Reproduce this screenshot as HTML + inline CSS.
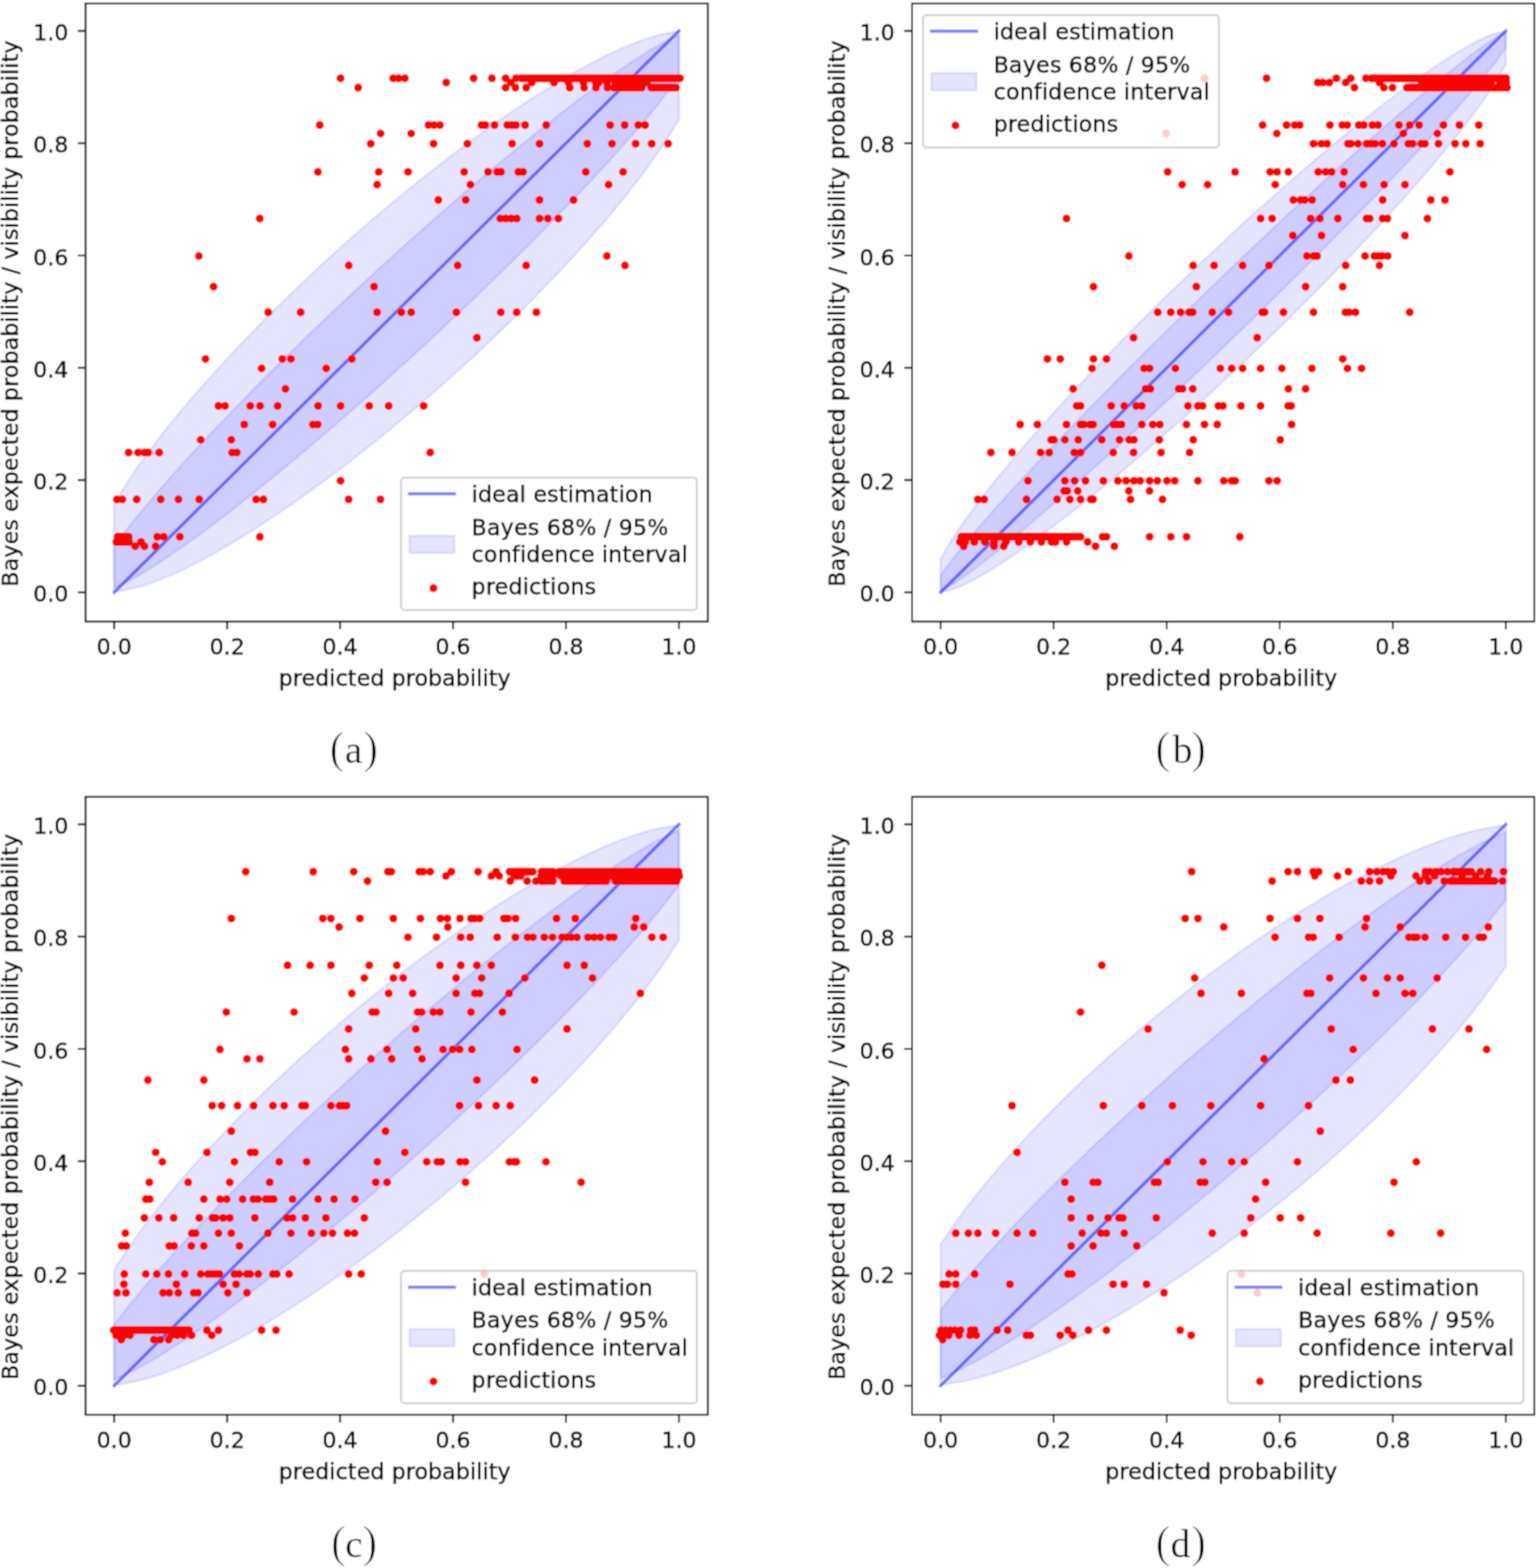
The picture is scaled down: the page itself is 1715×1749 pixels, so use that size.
<!DOCTYPE html>
<html><head><meta charset="utf-8"><style>html,body{margin:0;padding:0;background:#fff;}svg{display:block;}</style></head>
<body><svg xmlns="http://www.w3.org/2000/svg" width="1715" height="1749" viewBox="0 0 1715 1749">
<defs><filter id="sm" x="0" y="0" width="1715" height="1749" filterUnits="userSpaceOnUse"><feConvolveMatrix order="3" kernelMatrix="1 2 1 2 4 2 1 2 1" divisor="16" edgeMode="duplicate" preserveAlpha="true"/></filter></defs><g filter="url(#sm)">
<rect width="1715" height="1749" fill="#fff"/>
<path d="M127.3,562.0 L139.9,541.3 L152.5,522.5 L165.1,505.0 L177.7,488.4 L190.3,472.5 L202.9,457.2 L215.5,442.3 L228.1,427.9 L240.7,413.9 L253.3,400.2 L265.9,386.7 L278.5,373.6 L291.0,360.7 L303.6,348.1 L316.2,335.7 L328.8,323.5 L341.4,311.5 L354.0,299.7 L366.6,288.1 L379.2,276.7 L391.8,265.5 L404.4,254.4 L417.0,243.5 L429.6,232.8 L442.2,222.3 L454.8,211.9 L467.4,201.7 L480.0,191.7 L492.6,181.8 L505.2,172.2 L517.8,162.7 L530.4,153.4 L543.0,144.2 L555.6,135.3 L568.2,126.6 L580.8,118.1 L593.4,109.8 L605.9,101.7 L618.5,93.9 L631.1,86.4 L643.7,79.1 L656.3,72.2 L668.9,65.6 L681.5,59.4 L694.1,53.7 L706.7,48.5 L719.3,43.9 L731.9,40.0 L744.5,37.0 L757.1,35.1 L757.1,133.2 L744.5,153.9 L731.9,172.7 L719.3,190.2 L706.7,206.8 L694.1,222.7 L681.5,238.0 L668.9,252.9 L656.3,267.3 L643.7,281.3 L631.1,295.0 L618.5,308.5 L605.9,321.6 L593.4,334.5 L580.8,347.1 L568.2,359.5 L555.6,371.7 L543.0,383.7 L530.4,395.5 L517.8,407.1 L505.2,418.5 L492.6,429.7 L480.0,440.8 L467.4,451.7 L454.8,462.4 L442.2,472.9 L429.6,483.3 L417.0,493.5 L404.4,503.5 L391.8,513.4 L379.2,523.0 L366.6,532.5 L354.0,541.8 L341.4,551.0 L328.8,559.9 L316.2,568.6 L303.6,577.1 L291.0,585.4 L278.5,593.5 L265.9,601.3 L253.3,608.8 L240.7,616.1 L228.1,623.0 L215.5,629.6 L202.9,635.8 L190.3,641.5 L177.7,646.7 L165.1,651.3 L152.5,655.2 L139.9,658.2 L127.3,660.1Z" fill="#00f" fill-opacity="0.1" stroke="#00f" stroke-opacity="0.1" stroke-width="2.4" stroke-linejoin="round"/>
<path d="M127.3,609.6 L139.9,592.7 L152.5,576.7 L165.1,561.5 L177.7,546.7 L190.3,532.4 L202.9,518.3 L215.5,504.5 L228.1,491.0 L240.7,477.6 L253.3,464.5 L265.9,451.5 L278.5,438.6 L291.0,425.9 L303.6,413.3 L316.2,400.8 L328.8,388.5 L341.4,376.2 L354.0,364.1 L366.6,352.1 L379.2,340.2 L391.8,328.3 L404.4,316.6 L417.0,304.9 L429.6,293.4 L442.2,281.9 L454.8,270.6 L467.4,259.3 L480.0,248.1 L492.6,237.1 L505.2,226.1 L517.8,215.2 L530.4,204.4 L543.0,193.7 L555.6,183.1 L568.2,172.7 L580.8,162.3 L593.4,152.1 L605.9,142.0 L618.5,132.0 L631.1,122.2 L643.7,112.6 L656.3,103.1 L668.9,93.9 L681.5,84.8 L694.1,76.1 L706.7,67.6 L719.3,59.6 L731.9,52.1 L744.5,45.2 L757.1,39.5 L757.1,85.6 L744.5,102.5 L731.9,118.5 L719.3,133.7 L706.7,148.5 L694.1,162.8 L681.5,176.9 L668.9,190.7 L656.3,204.2 L643.7,217.6 L631.1,230.7 L618.5,243.7 L605.9,256.6 L593.4,269.3 L580.8,281.9 L568.2,294.4 L555.6,306.7 L543.0,319.0 L530.4,331.1 L517.8,343.1 L505.2,355.0 L492.6,366.9 L480.0,378.6 L467.4,390.3 L454.8,401.8 L442.2,413.3 L429.6,424.6 L417.0,435.9 L404.4,447.1 L391.8,458.1 L379.2,469.1 L366.6,480.0 L354.0,490.8 L341.4,501.5 L328.8,512.1 L316.2,522.5 L303.6,532.9 L291.0,543.1 L278.5,553.2 L265.9,563.2 L253.3,573.0 L240.7,582.6 L228.1,592.1 L215.5,601.3 L202.9,610.4 L190.3,619.1 L177.7,627.6 L165.1,635.6 L152.5,643.1 L139.9,650.0 L127.3,655.7Z" fill="#00f" fill-opacity="0.1" stroke="#00f" stroke-opacity="0.1" stroke-width="2.4" stroke-linejoin="round"/>
<line x1="127.3" y1="660.8" x2="757.1" y2="34.4" stroke="#00f" stroke-opacity="0.5" stroke-width="3.4" stroke-linecap="square"/>
<g fill="#f00">
<circle cx="379.8" cy="87.2" r="4.5"/><circle cx="399.4" cy="97.7" r="4.5"/><circle cx="438.4" cy="87.2" r="4.5"/><circle cx="444.5" cy="87.2" r="4.5"/><circle cx="451.5" cy="87.2" r="4.5"/><circle cx="356.5" cy="139.5" r="4.5"/><circle cx="424.4" cy="148.9" r="4.5"/><circle cx="458.5" cy="148.9" r="4.5"/><circle cx="413.4" cy="160.3" r="4.5"/><circle cx="477.8" cy="139.5" r="4.5"/><circle cx="483.9" cy="139.5" r="4.5"/><circle cx="490.5" cy="139.5" r="4.5"/><circle cx="483.4" cy="160.3" r="4.5"/><circle cx="354.5" cy="191.7" r="4.5"/><circle cx="422.3" cy="191.7" r="4.5"/><circle cx="455.0" cy="191.7" r="4.5"/><circle cx="420.5" cy="205.9" r="4.5"/><circle cx="488.8" cy="223.0" r="4.5"/><circle cx="289.7" cy="243.8" r="4.5"/><circle cx="221.8" cy="285.6" r="4.5"/><circle cx="388.9" cy="296.1" r="4.5"/><circle cx="238.1" cy="319.7" r="4.5"/><circle cx="417.1" cy="319.7" r="4.5"/><circle cx="299.0" cy="348.2" r="4.5"/><circle cx="335.2" cy="348.2" r="4.5"/><circle cx="420.5" cy="348.2" r="4.5"/><circle cx="447.5" cy="348.2" r="4.5"/><circle cx="458.5" cy="348.2" r="4.5"/><circle cx="497.6" cy="92.0" r="4.5"/><circle cx="528.1" cy="87.2" r="4.5"/><circle cx="536.9" cy="139.5" r="4.5"/><circle cx="541.2" cy="139.5" r="4.5"/><circle cx="551.4" cy="139.5" r="4.5"/><circle cx="565.7" cy="139.5" r="4.5"/><circle cx="570.6" cy="139.5" r="4.5"/><circle cx="575.3" cy="139.5" r="4.5"/><circle cx="585.5" cy="139.5" r="4.5"/><circle cx="609.1" cy="139.5" r="4.5"/><circle cx="680.3" cy="139.5" r="4.5"/><circle cx="696.6" cy="139.5" r="4.5"/><circle cx="711.8" cy="139.5" r="4.5"/><circle cx="719.3" cy="139.5" r="4.5"/><circle cx="521.1" cy="160.3" r="4.5"/><circle cx="571.0" cy="160.3" r="4.5"/><circle cx="601.6" cy="160.3" r="4.5"/><circle cx="654.9" cy="160.3" r="4.5"/><circle cx="682.4" cy="160.3" r="4.5"/><circle cx="708.8" cy="160.3" r="4.5"/><circle cx="726.7" cy="160.3" r="4.5"/><circle cx="745.0" cy="160.3" r="4.5"/><circle cx="517.6" cy="191.7" r="4.5"/><circle cx="544.2" cy="191.7" r="4.5"/><circle cx="554.4" cy="191.7" r="4.5"/><circle cx="558.7" cy="191.7" r="4.5"/><circle cx="578.0" cy="191.7" r="4.5"/><circle cx="583.2" cy="191.7" r="4.5"/><circle cx="653.2" cy="191.7" r="4.5"/><circle cx="694.8" cy="191.7" r="4.5"/><circle cx="524.6" cy="205.9" r="4.5"/><circle cx="678.6" cy="205.9" r="4.5"/><circle cx="519.3" cy="223.0" r="4.5"/><circle cx="601.6" cy="223.0" r="4.5"/><circle cx="639.5" cy="223.0" r="4.5"/><circle cx="557.8" cy="243.8" r="4.5"/><circle cx="564.0" cy="243.8" r="4.5"/><circle cx="570.1" cy="243.8" r="4.5"/><circle cx="576.2" cy="243.8" r="4.5"/><circle cx="601.6" cy="243.8" r="4.5"/><circle cx="610.9" cy="243.8" r="4.5"/><circle cx="622.6" cy="243.8" r="4.5"/><circle cx="676.8" cy="285.6" r="4.5"/><circle cx="510.3" cy="296.1" r="4.5"/><circle cx="586.7" cy="296.1" r="4.5"/><circle cx="696.9" cy="296.1" r="4.5"/><circle cx="508.9" cy="348.2" r="4.5"/><circle cx="558.4" cy="348.2" r="4.5"/><circle cx="576.2" cy="348.2" r="4.5"/><circle cx="598.1" cy="348.2" r="4.5"/><circle cx="229.1" cy="400.4" r="4.5"/><circle cx="314.8" cy="400.4" r="4.5"/><circle cx="324.4" cy="400.4" r="4.5"/><circle cx="392.3" cy="400.4" r="4.5"/><circle cx="291.7" cy="410.9" r="4.5"/><circle cx="363.8" cy="410.9" r="4.5"/><circle cx="318.3" cy="433.7" r="4.5"/><circle cx="243.6" cy="452.7" r="4.5"/><circle cx="250.9" cy="452.7" r="4.5"/><circle cx="279.0" cy="452.7" r="4.5"/><circle cx="290.0" cy="452.7" r="4.5"/><circle cx="309.6" cy="452.7" r="4.5"/><circle cx="354.7" cy="452.7" r="4.5"/><circle cx="379.8" cy="452.7" r="4.5"/><circle cx="272.3" cy="473.5" r="4.5"/><circle cx="304.0" cy="473.5" r="4.5"/><circle cx="348.9" cy="473.5" r="4.5"/><circle cx="354.2" cy="473.5" r="4.5"/><circle cx="223.8" cy="490.6" r="4.5"/><circle cx="257.9" cy="490.6" r="4.5"/><circle cx="143.4" cy="504.8" r="4.5"/><circle cx="153.9" cy="504.8" r="4.5"/><circle cx="160.9" cy="504.8" r="4.5"/><circle cx="165.2" cy="504.8" r="4.5"/><circle cx="177.5" cy="504.8" r="4.5"/><circle cx="258.8" cy="504.8" r="4.5"/><circle cx="264.0" cy="504.8" r="4.5"/><circle cx="379.8" cy="536.2" r="4.5"/><circle cx="130.3" cy="557.0" r="4.5"/><circle cx="136.4" cy="557.0" r="4.5"/><circle cx="152.4" cy="557.0" r="4.5"/><circle cx="179.2" cy="557.0" r="4.5"/><circle cx="199.0" cy="557.0" r="4.5"/><circle cx="222.1" cy="557.0" r="4.5"/><circle cx="285.6" cy="557.0" r="4.5"/><circle cx="293.8" cy="557.0" r="4.5"/><circle cx="388.8" cy="557.0" r="4.5"/><circle cx="289.8" cy="598.8" r="4.5"/><circle cx="531.8" cy="376.8" r="4.5"/><circle cx="411.8" cy="452.7" r="4.5"/><circle cx="433.4" cy="452.7" r="4.5"/><circle cx="472.4" cy="452.7" r="4.5"/><circle cx="479.7" cy="504.8" r="4.5"/><circle cx="424.2" cy="557.0" r="4.5"/><circle cx="633.8" cy="92.0" r="4.5"/><circle cx="650.6" cy="92.0" r="4.5"/><circle cx="676.8" cy="92.0" r="4.5"/><circle cx="548.5" cy="87.2" r="4.5"/><circle cx="563.8" cy="87.2" r="4.5"/><circle cx="575.5" cy="87.2" r="4.5"/><circle cx="569.7" cy="92.0" r="4.5"/><circle cx="593.0" cy="92.0" r="4.5"/><circle cx="617.8" cy="92.0" r="4.5"/><circle cx="664.4" cy="92.0" r="4.5"/><circle cx="667.5" cy="92.0" r="4.5"/><circle cx="563.8" cy="97.7" r="4.5"/><circle cx="574.8" cy="97.7" r="4.5"/><circle cx="586.8" cy="97.7" r="4.5"/><circle cx="635.3" cy="97.7" r="4.5"/><circle cx="651.3" cy="97.7" r="4.5"/><circle cx="664.5" cy="97.7" r="4.5"/><circle cx="677.3" cy="97.7" r="4.5"/><circle cx="131.1" cy="598.8" r="4.5"/><circle cx="134.1" cy="598.8" r="4.5"/><circle cx="137.1" cy="598.8" r="4.5"/><circle cx="140.1" cy="598.8" r="4.5"/><circle cx="143.5" cy="598.8" r="4.5"/><circle cx="175.3" cy="598.8" r="4.5"/><circle cx="182.6" cy="598.8" r="4.5"/><circle cx="200.6" cy="598.8" r="4.5"/><circle cx="129.8" cy="604.5" r="4.5"/><circle cx="132.8" cy="604.5" r="4.5"/><circle cx="136.2" cy="604.5" r="4.5"/><circle cx="139.7" cy="604.5" r="4.5"/><circle cx="144.0" cy="604.5" r="4.5"/><circle cx="157.3" cy="604.5" r="4.5"/><circle cx="150.8" cy="609.3" r="4.5"/><circle cx="161.1" cy="609.3" r="4.5"/><circle cx="173.5" cy="609.3" r="4.5"/><circle cx="581.3" cy="87.2" r="4.5"/><circle cx="584.3" cy="87.2" r="4.5"/><circle cx="587.3" cy="87.2" r="4.5"/><circle cx="590.3" cy="87.2" r="4.5"/><circle cx="593.3" cy="87.2" r="4.5"/><circle cx="596.3" cy="87.2" r="4.5"/><circle cx="599.3" cy="87.2" r="4.5"/><circle cx="602.3" cy="87.2" r="4.5"/><circle cx="605.3" cy="87.2" r="4.5"/><circle cx="608.3" cy="87.2" r="4.5"/><circle cx="611.3" cy="87.2" r="4.5"/><circle cx="614.3" cy="87.2" r="4.5"/><circle cx="617.3" cy="87.2" r="4.5"/><circle cx="620.3" cy="87.2" r="4.5"/><circle cx="623.3" cy="87.2" r="4.5"/><circle cx="626.3" cy="87.2" r="4.5"/><circle cx="629.2" cy="87.2" r="4.5"/><circle cx="632.3" cy="87.2" r="4.5"/><circle cx="635.3" cy="87.2" r="4.5"/><circle cx="638.3" cy="87.2" r="4.5"/><circle cx="641.3" cy="87.2" r="4.5"/><circle cx="644.2" cy="87.2" r="4.5"/><circle cx="647.3" cy="87.2" r="4.5"/><circle cx="650.3" cy="87.2" r="4.5"/><circle cx="653.2" cy="87.2" r="4.5"/><circle cx="656.3" cy="87.2" r="4.5"/><circle cx="659.2" cy="87.2" r="4.5"/><circle cx="662.2" cy="87.2" r="4.5"/><circle cx="665.3" cy="87.2" r="4.5"/><circle cx="668.2" cy="87.2" r="4.5"/><circle cx="671.3" cy="87.2" r="4.5"/><circle cx="674.3" cy="87.2" r="4.5"/><circle cx="677.2" cy="87.2" r="4.5"/><circle cx="680.3" cy="87.2" r="4.5"/><circle cx="683.2" cy="87.2" r="4.5"/><circle cx="686.2" cy="87.2" r="4.5"/><circle cx="689.3" cy="87.2" r="4.5"/><circle cx="692.2" cy="87.2" r="4.5"/><circle cx="695.2" cy="87.2" r="4.5"/><circle cx="698.2" cy="87.2" r="4.5"/><circle cx="701.2" cy="87.2" r="4.5"/><circle cx="704.3" cy="87.2" r="4.5"/><circle cx="707.2" cy="87.2" r="4.5"/><circle cx="710.2" cy="87.2" r="4.5"/><circle cx="713.2" cy="87.2" r="4.5"/><circle cx="716.2" cy="87.2" r="4.5"/><circle cx="719.2" cy="87.2" r="4.5"/><circle cx="722.2" cy="87.2" r="4.5"/><circle cx="725.2" cy="87.2" r="4.5"/><circle cx="728.2" cy="87.2" r="4.5"/><circle cx="731.2" cy="87.2" r="4.5"/><circle cx="734.2" cy="87.2" r="4.5"/><circle cx="737.2" cy="87.2" r="4.5"/><circle cx="740.2" cy="87.2" r="4.5"/><circle cx="743.2" cy="87.2" r="4.5"/><circle cx="746.2" cy="87.2" r="4.5"/><circle cx="749.2" cy="87.2" r="4.5"/><circle cx="752.2" cy="87.2" r="4.5"/><circle cx="755.2" cy="87.2" r="4.5"/><circle cx="758.2" cy="87.2" r="4.5"/><circle cx="686.3" cy="92.0" r="4.5"/><circle cx="689.2" cy="92.0" r="4.5"/><circle cx="692.2" cy="92.0" r="4.5"/><circle cx="695.1" cy="92.0" r="4.5"/><circle cx="698.0" cy="92.0" r="4.5"/><circle cx="700.9" cy="92.0" r="4.5"/><circle cx="703.8" cy="92.0" r="4.5"/><circle cx="706.7" cy="92.0" r="4.5"/><circle cx="709.6" cy="92.0" r="4.5"/><circle cx="712.6" cy="92.0" r="4.5"/><circle cx="715.5" cy="92.0" r="4.5"/><circle cx="718.4" cy="92.0" r="4.5"/><circle cx="721.3" cy="92.0" r="4.5"/><circle cx="684.5" cy="97.7" r="4.5"/><circle cx="687.6" cy="97.7" r="4.5"/><circle cx="690.7" cy="97.7" r="4.5"/><circle cx="693.8" cy="97.7" r="4.5"/><circle cx="696.9" cy="97.7" r="4.5"/><circle cx="700.0" cy="97.7" r="4.5"/><circle cx="703.1" cy="97.7" r="4.5"/><circle cx="706.2" cy="97.7" r="4.5"/><circle cx="709.3" cy="97.7" r="4.5"/><circle cx="712.4" cy="97.7" r="4.5"/><circle cx="715.5" cy="97.7" r="4.5"/><circle cx="726.1" cy="97.7" r="4.5"/><circle cx="729.2" cy="97.7" r="4.5"/><circle cx="732.3" cy="97.7" r="4.5"/><circle cx="735.3" cy="97.7" r="4.5"/><circle cx="738.4" cy="97.7" r="4.5"/><circle cx="741.5" cy="97.7" r="4.5"/><circle cx="744.6" cy="97.7" r="4.5"/><circle cx="747.6" cy="97.7" r="4.5"/><circle cx="750.7" cy="97.7" r="4.5"/><circle cx="753.8" cy="97.7" r="4.5"/>
</g>
<rect x="447.2" y="532.7" width="329.9" height="147.7" rx="4" ry="4" fill="#fff" fill-opacity="0.8" stroke="#ccc" stroke-width="2"/>
<line x1="456.7" y1="550.8" x2="506.7" y2="550.8" stroke="#00f" stroke-opacity="0.5" stroke-width="3.4" stroke-linecap="square"/>
<rect x="456.7" y="597.7" width="50" height="19" fill="#00f" fill-opacity="0.1" stroke="#00f" stroke-opacity="0.1" stroke-width="2.4"/>
<circle cx="483.3" cy="656.0" r="4.5" fill="#f00"/>
<g font-family="'DejaVu Sans', 'Liberation Sans', sans-serif" font-size="24.7" fill="#000" stroke="#000" stroke-width="0.45" letter-spacing="0.22">
<text x="525.8" y="559.7">ideal estimation</text>
<text x="525.8" y="596.5">Bayes 68% / 95%</text>
<text x="525.8" y="626.8">confidence interval</text>
<text x="525.8" y="663.0">predictions</text>
</g>
<rect x="95.4" y="3.9" width="693.9" height="689.4" fill="none" stroke="#000" stroke-width="2" stroke-linejoin="miter"/>
<path d="M127.3,693.2 v8.6 M95.4,660.8 h-8.6 M253.3,693.2 v8.6 M95.4,535.5 h-8.6 M379.2,693.2 v8.6 M95.4,410.2 h-8.6 M505.2,693.2 v8.6 M95.4,285.0 h-8.6 M631.1,693.2 v8.6 M95.4,159.7 h-8.6 M757.1,693.2 v8.6 M95.4,34.4 h-8.6" stroke="#000" stroke-width="2"/>
<g font-family="'DejaVu Sans', 'Liberation Sans', sans-serif" font-size="24.7" fill="#000" stroke="#000" stroke-width="0.45">
<text x="127.3" y="730.2" text-anchor="middle">0.0</text>
<text x="76.2" y="671.3" text-anchor="end">0.0</text>
<text x="253.3" y="730.2" text-anchor="middle">0.2</text>
<text x="76.2" y="546.0" text-anchor="end">0.2</text>
<text x="379.2" y="730.2" text-anchor="middle">0.4</text>
<text x="76.2" y="420.7" text-anchor="end">0.4</text>
<text x="505.2" y="730.2" text-anchor="middle">0.6</text>
<text x="76.2" y="295.5" text-anchor="end">0.6</text>
<text x="631.1" y="730.2" text-anchor="middle">0.8</text>
<text x="76.2" y="170.2" text-anchor="end">0.8</text>
<text x="757.1" y="730.2" text-anchor="middle">1.0</text>
<text x="76.2" y="44.9" text-anchor="end">1.0</text>
<text x="440.1" y="765.2" text-anchor="middle" letter-spacing="0.1">predicted probability</text>
<text transform="translate(19.9,349.7) rotate(-90)" text-anchor="middle" letter-spacing="0.15">Bayes expected probability / visibility probability</text>
</g>
<g font-family="'Liberation Serif', serif" fill="#000" stroke="#fff" stroke-width="1.0"><text x="367.4" y="851.1" font-size="50">(</text><text x="384.4" y="851.1" font-size="44" stroke-width="0.25">a</text><text x="405.0" y="851.1" font-size="50">)</text></g>
<path d="M1048.9,623.4 L1061.5,601.8 L1074.1,583.1 L1086.7,565.8 L1099.3,549.4 L1111.9,533.7 L1124.5,518.4 L1137.1,503.5 L1149.7,488.9 L1162.3,474.7 L1174.9,460.6 L1187.5,446.8 L1200.1,433.2 L1212.8,419.8 L1225.4,406.5 L1238.0,393.4 L1250.6,380.5 L1263.2,367.7 L1275.8,355.0 L1288.4,342.5 L1301.0,330.1 L1313.6,317.8 L1326.2,305.7 L1338.8,293.6 L1351.4,281.7 L1364.0,269.9 L1376.6,258.2 L1389.2,246.7 L1401.8,235.2 L1414.4,223.9 L1427.0,212.7 L1439.6,201.6 L1452.2,190.7 L1464.8,179.8 L1477.4,169.2 L1490.0,158.6 L1502.6,148.2 L1515.2,138.0 L1527.9,127.9 L1540.5,118.1 L1553.1,108.4 L1565.7,98.9 L1578.3,89.7 L1590.9,80.8 L1603.5,72.2 L1616.1,63.9 L1628.7,56.2 L1641.3,49.0 L1653.9,42.6 L1666.5,37.6 L1679.1,34.7 L1679.1,71.8 L1666.5,93.4 L1653.9,112.1 L1641.3,129.4 L1628.7,145.8 L1616.1,161.5 L1603.5,176.8 L1590.9,191.7 L1578.3,206.3 L1565.7,220.5 L1553.1,234.6 L1540.5,248.4 L1527.9,262.0 L1515.2,275.4 L1502.6,288.7 L1490.0,301.8 L1477.4,314.7 L1464.8,327.5 L1452.2,340.2 L1439.6,352.7 L1427.0,365.1 L1414.4,377.4 L1401.8,389.5 L1389.2,401.6 L1376.6,413.5 L1364.0,425.3 L1351.4,437.0 L1338.8,448.5 L1326.2,460.0 L1313.6,471.3 L1301.0,482.5 L1288.4,493.6 L1275.8,504.5 L1263.2,515.4 L1250.6,526.0 L1238.0,536.6 L1225.4,547.0 L1212.8,557.2 L1200.1,567.3 L1187.5,577.1 L1174.9,586.8 L1162.3,596.3 L1149.7,605.5 L1137.1,614.4 L1124.5,623.0 L1111.9,631.3 L1099.3,639.0 L1086.7,646.2 L1074.1,652.6 L1061.5,657.6 L1048.9,660.5Z" fill="#00f" fill-opacity="0.1" stroke="#00f" stroke-opacity="0.1" stroke-width="2.4" stroke-linejoin="round"/>
<path d="M1048.9,642.0 L1061.5,624.6 L1074.1,608.9 L1086.7,593.8 L1099.3,579.3 L1111.9,565.1 L1124.5,551.1 L1137.1,537.4 L1149.7,523.8 L1162.3,510.4 L1174.9,497.1 L1187.5,483.9 L1200.1,470.8 L1212.8,457.8 L1225.4,444.9 L1238.0,432.1 L1250.6,419.3 L1263.2,406.7 L1275.8,394.1 L1288.4,381.5 L1301.0,369.1 L1313.6,356.7 L1326.2,344.3 L1338.8,332.1 L1351.4,319.9 L1364.0,307.7 L1376.6,295.6 L1389.2,283.6 L1401.8,271.6 L1414.4,259.7 L1427.0,247.9 L1439.6,236.1 L1452.2,224.4 L1464.8,212.8 L1477.4,201.2 L1490.0,189.7 L1502.6,178.3 L1515.2,167.0 L1527.9,155.7 L1540.5,144.6 L1553.1,133.5 L1565.7,122.6 L1578.3,111.8 L1590.9,101.2 L1603.5,90.7 L1616.1,80.4 L1628.7,70.4 L1641.3,60.7 L1653.9,51.5 L1666.5,43.0 L1679.1,36.2 L1679.1,53.2 L1666.5,70.6 L1653.9,86.3 L1641.3,101.4 L1628.7,115.9 L1616.1,130.1 L1603.5,144.1 L1590.9,157.8 L1578.3,171.4 L1565.7,184.8 L1553.1,198.1 L1540.5,211.3 L1527.9,224.4 L1515.2,237.4 L1502.6,250.3 L1490.0,263.1 L1477.4,275.9 L1464.8,288.5 L1452.2,301.1 L1439.6,313.7 L1427.0,326.1 L1414.4,338.5 L1401.8,350.9 L1389.2,363.1 L1376.6,375.3 L1364.0,387.5 L1351.4,399.6 L1338.8,411.6 L1326.2,423.6 L1313.6,435.5 L1301.0,447.3 L1288.4,459.1 L1275.8,470.8 L1263.2,482.4 L1250.6,494.0 L1238.0,505.5 L1225.4,516.9 L1212.8,528.2 L1200.1,539.5 L1187.5,550.6 L1174.9,561.7 L1162.3,572.6 L1149.7,583.4 L1137.1,594.0 L1124.5,604.5 L1111.9,614.8 L1099.3,624.8 L1086.7,634.5 L1074.1,643.7 L1061.5,652.2 L1048.9,659.0Z" fill="#00f" fill-opacity="0.1" stroke="#00f" stroke-opacity="0.1" stroke-width="2.4" stroke-linejoin="round"/>
<line x1="1048.9" y1="660.8" x2="1679.1" y2="34.4" stroke="#00f" stroke-opacity="0.5" stroke-width="3.4" stroke-linecap="square"/>
<g fill="#f00">
<circle cx="1302.0" cy="191.7" r="4.5"/><circle cx="1318.1" cy="205.9" r="4.5"/><circle cx="1189.2" cy="243.8" r="4.5"/><circle cx="1258.8" cy="285.6" r="4.5"/><circle cx="1330.3" cy="296.1" r="4.5"/><circle cx="1219.3" cy="319.7" r="4.5"/><circle cx="1334.0" cy="319.7" r="4.5"/><circle cx="1291.0" cy="348.2" r="4.5"/><circle cx="1305.5" cy="348.2" r="4.5"/><circle cx="1316.4" cy="348.2" r="4.5"/><circle cx="1326.0" cy="348.2" r="4.5"/><circle cx="1330.0" cy="348.2" r="4.5"/><circle cx="1264.0" cy="376.8" r="4.5"/><circle cx="1167.9" cy="400.4" r="4.5"/><circle cx="1182.2" cy="400.4" r="4.5"/><circle cx="1219.3" cy="400.4" r="4.5"/><circle cx="1233.8" cy="400.4" r="4.5"/><circle cx="1217.7" cy="410.9" r="4.5"/><circle cx="1275.8" cy="410.9" r="4.5"/><circle cx="1281.9" cy="410.9" r="4.5"/><circle cx="1310.7" cy="410.9" r="4.5"/><circle cx="1196.6" cy="433.7" r="4.5"/><circle cx="1277.5" cy="433.7" r="4.5"/><circle cx="1282.8" cy="433.7" r="4.5"/><circle cx="1314.3" cy="433.7" r="4.5"/><circle cx="1318.6" cy="433.7" r="4.5"/><circle cx="1330.0" cy="433.7" r="4.5"/><circle cx="1200.6" cy="452.7" r="4.5"/><circle cx="1204.9" cy="452.7" r="4.5"/><circle cx="1239.0" cy="452.7" r="4.5"/><circle cx="1253.6" cy="452.7" r="4.5"/><circle cx="1267.0" cy="452.7" r="4.5"/><circle cx="1273.2" cy="452.7" r="4.5"/><circle cx="1324.7" cy="452.7" r="4.5"/><circle cx="1377.2" cy="191.7" r="4.5"/><circle cx="1416.2" cy="191.7" r="4.5"/><circle cx="1424.1" cy="191.7" r="4.5"/><circle cx="1436.7" cy="191.7" r="4.5"/><circle cx="1469.9" cy="191.7" r="4.5"/><circle cx="1478.3" cy="191.7" r="4.5"/><circle cx="1484.8" cy="191.7" r="4.5"/><circle cx="1498.8" cy="191.7" r="4.5"/><circle cx="1616.8" cy="191.7" r="4.5"/><circle cx="1346.6" cy="205.9" r="4.5"/><circle cx="1422.0" cy="205.9" r="4.5"/><circle cx="1497.2" cy="205.9" r="4.5"/><circle cx="1520.3" cy="205.9" r="4.5"/><circle cx="1543.4" cy="205.9" r="4.5"/><circle cx="1566.7" cy="205.9" r="4.5"/><circle cx="1442.1" cy="223.0" r="4.5"/><circle cx="1450.3" cy="223.0" r="4.5"/><circle cx="1454.7" cy="223.0" r="4.5"/><circle cx="1463.1" cy="223.0" r="4.5"/><circle cx="1541.8" cy="223.0" r="4.5"/><circle cx="1595.5" cy="223.0" r="4.5"/><circle cx="1611.3" cy="223.0" r="4.5"/><circle cx="1405.7" cy="243.8" r="4.5"/><circle cx="1418.5" cy="243.8" r="4.5"/><circle cx="1461.4" cy="243.8" r="4.5"/><circle cx="1471.8" cy="243.8" r="4.5"/><circle cx="1491.8" cy="243.8" r="4.5"/><circle cx="1523.8" cy="243.8" r="4.5"/><circle cx="1527.3" cy="243.8" r="4.5"/><circle cx="1541.8" cy="243.8" r="4.5"/><circle cx="1547.1" cy="243.8" r="4.5"/><circle cx="1591.7" cy="243.8" r="4.5"/><circle cx="1441.6" cy="262.8" r="4.5"/><circle cx="1473.6" cy="262.8" r="4.5"/><circle cx="1566.7" cy="262.8" r="4.5"/><circle cx="1457.3" cy="285.6" r="4.5"/><circle cx="1464.8" cy="285.6" r="4.5"/><circle cx="1468.7" cy="285.6" r="4.5"/><circle cx="1522.1" cy="285.6" r="4.5"/><circle cx="1532.5" cy="285.6" r="4.5"/><circle cx="1536.9" cy="285.6" r="4.5"/><circle cx="1541.3" cy="285.6" r="4.5"/><circle cx="1547.4" cy="285.6" r="4.5"/><circle cx="1353.8" cy="296.1" r="4.5"/><circle cx="1385.6" cy="296.1" r="4.5"/><circle cx="1415.0" cy="296.1" r="4.5"/><circle cx="1500.6" cy="296.1" r="4.5"/><circle cx="1538.1" cy="296.1" r="4.5"/><circle cx="1455.9" cy="319.7" r="4.5"/><circle cx="1497.2" cy="319.7" r="4.5"/><circle cx="1351.8" cy="348.2" r="4.5"/><circle cx="1369.9" cy="348.2" r="4.5"/><circle cx="1407.5" cy="348.2" r="4.5"/><circle cx="1410.1" cy="348.2" r="4.5"/><circle cx="1431.1" cy="348.2" r="4.5"/><circle cx="1464.6" cy="348.2" r="4.5"/><circle cx="1500.2" cy="348.2" r="4.5"/><circle cx="1504.5" cy="348.2" r="4.5"/><circle cx="1511.5" cy="348.2" r="4.5"/><circle cx="1571.9" cy="348.2" r="4.5"/><circle cx="1401.9" cy="376.8" r="4.5"/><circle cx="1497.2" cy="400.4" r="4.5"/><circle cx="1360.8" cy="410.9" r="4.5"/><circle cx="1373.4" cy="410.9" r="4.5"/><circle cx="1385.6" cy="410.9" r="4.5"/><circle cx="1405.7" cy="410.9" r="4.5"/><circle cx="1429.3" cy="410.9" r="4.5"/><circle cx="1462.9" cy="410.9" r="4.5"/><circle cx="1502.5" cy="410.9" r="4.5"/><circle cx="1518.2" cy="410.9" r="4.5"/><circle cx="1436.7" cy="433.7" r="4.5"/><circle cx="1455.9" cy="433.7" r="4.5"/><circle cx="1335.8" cy="452.7" r="4.5"/><circle cx="1341.0" cy="452.7" r="4.5"/><circle cx="1358.5" cy="452.7" r="4.5"/><circle cx="1363.7" cy="452.7" r="4.5"/><circle cx="1383.8" cy="452.7" r="4.5"/><circle cx="1405.7" cy="452.7" r="4.5"/><circle cx="1436.3" cy="452.7" r="4.5"/><circle cx="1439.8" cy="452.7" r="4.5"/><circle cx="1443.7" cy="139.5" r="4.5"/><circle cx="1449.3" cy="139.5" r="4.5"/><circle cx="1483.0" cy="139.5" r="4.5"/><circle cx="1496.7" cy="139.5" r="4.5"/><circle cx="1502.3" cy="139.5" r="4.5"/><circle cx="1515.1" cy="139.5" r="4.5"/><circle cx="1520.7" cy="139.5" r="4.5"/><circle cx="1530.3" cy="139.5" r="4.5"/><circle cx="1536.7" cy="139.5" r="4.5"/><circle cx="1560.0" cy="139.5" r="4.5"/><circle cx="1572.0" cy="139.5" r="4.5"/><circle cx="1582.4" cy="139.5" r="4.5"/><circle cx="1609.6" cy="139.5" r="4.5"/><circle cx="1627.3" cy="139.5" r="4.5"/><circle cx="1649.0" cy="139.5" r="4.5"/><circle cx="1564.8" cy="148.9" r="4.5"/><circle cx="1602.8" cy="148.9" r="4.5"/><circle cx="1464.6" cy="160.3" r="4.5"/><circle cx="1473.4" cy="160.3" r="4.5"/><circle cx="1479.8" cy="160.3" r="4.5"/><circle cx="1503.0" cy="160.3" r="4.5"/><circle cx="1506.2" cy="160.3" r="4.5"/><circle cx="1514.2" cy="160.3" r="4.5"/><circle cx="1523.9" cy="160.3" r="4.5"/><circle cx="1528.7" cy="160.3" r="4.5"/><circle cx="1533.5" cy="160.3" r="4.5"/><circle cx="1541.5" cy="160.3" r="4.5"/><circle cx="1554.4" cy="160.3" r="4.5"/><circle cx="1570.4" cy="160.3" r="4.5"/><circle cx="1575.2" cy="160.3" r="4.5"/><circle cx="1584.8" cy="160.3" r="4.5"/><circle cx="1588.9" cy="160.3" r="4.5"/><circle cx="1604.0" cy="160.3" r="4.5"/><circle cx="1622.5" cy="160.3" r="4.5"/><circle cx="1634.5" cy="160.3" r="4.5"/><circle cx="1650.5" cy="160.3" r="4.5"/><circle cx="1469.4" cy="92.0" r="4.5"/><circle cx="1475.0" cy="92.0" r="4.5"/><circle cx="1482.5" cy="92.0" r="4.5"/><circle cx="1500.6" cy="92.0" r="4.5"/><circle cx="1538.3" cy="92.0" r="4.5"/><circle cx="1490.2" cy="87.2" r="4.5"/><circle cx="1506.2" cy="87.2" r="4.5"/><circle cx="1523.1" cy="87.2" r="4.5"/><circle cx="1510.3" cy="97.7" r="4.5"/><circle cx="1543.1" cy="97.7" r="4.5"/><circle cx="1552.7" cy="97.7" r="4.5"/><circle cx="1412.3" cy="87.2" r="4.5"/><circle cx="1407.9" cy="139.5" r="4.5"/><circle cx="1423.8" cy="148.9" r="4.5"/><circle cx="1434.6" cy="139.5" r="4.5"/><circle cx="1343.1" cy="87.2" r="4.5"/><circle cx="1300.3" cy="148.9" r="4.5"/><circle cx="1137.6" cy="473.5" r="4.5"/><circle cx="1156.8" cy="473.5" r="4.5"/><circle cx="1189.2" cy="473.5" r="4.5"/><circle cx="1204.9" cy="473.5" r="4.5"/><circle cx="1208.4" cy="473.5" r="4.5"/><circle cx="1215.5" cy="473.5" r="4.5"/><circle cx="1218.9" cy="473.5" r="4.5"/><circle cx="1241.7" cy="473.5" r="4.5"/><circle cx="1246.0" cy="473.5" r="4.5"/><circle cx="1250.4" cy="473.5" r="4.5"/><circle cx="1273.2" cy="473.5" r="4.5"/><circle cx="1285.4" cy="473.5" r="4.5"/><circle cx="1293.3" cy="473.5" r="4.5"/><circle cx="1323.0" cy="473.5" r="4.5"/><circle cx="1172.0" cy="490.6" r="4.5"/><circle cx="1175.2" cy="490.6" r="4.5"/><circle cx="1187.4" cy="490.6" r="4.5"/><circle cx="1202.3" cy="490.6" r="4.5"/><circle cx="1228.6" cy="490.6" r="4.5"/><circle cx="1248.3" cy="490.6" r="4.5"/><circle cx="1259.1" cy="490.6" r="4.5"/><circle cx="1264.4" cy="490.6" r="4.5"/><circle cx="1292.7" cy="490.6" r="4.5"/><circle cx="1330.5" cy="490.6" r="4.5"/><circle cx="1104.9" cy="504.8" r="4.5"/><circle cx="1128.5" cy="504.8" r="4.5"/><circle cx="1160.3" cy="504.8" r="4.5"/><circle cx="1170.0" cy="504.8" r="4.5"/><circle cx="1197.9" cy="504.8" r="4.5"/><circle cx="1204.9" cy="504.8" r="4.5"/><circle cx="1241.3" cy="504.8" r="4.5"/><circle cx="1264.0" cy="504.8" r="4.5"/><circle cx="1294.7" cy="504.8" r="4.5"/><circle cx="1326.5" cy="504.8" r="4.5"/><circle cx="1146.3" cy="536.2" r="4.5"/><circle cx="1187.4" cy="536.2" r="4.5"/><circle cx="1198.3" cy="536.2" r="4.5"/><circle cx="1210.5" cy="536.2" r="4.5"/><circle cx="1230.3" cy="536.2" r="4.5"/><circle cx="1246.6" cy="536.2" r="4.5"/><circle cx="1255.7" cy="536.2" r="4.5"/><circle cx="1264.4" cy="536.2" r="4.5"/><circle cx="1271.4" cy="536.2" r="4.5"/><circle cx="1281.9" cy="536.2" r="4.5"/><circle cx="1290.6" cy="536.2" r="4.5"/><circle cx="1301.2" cy="536.2" r="4.5"/><circle cx="1309.9" cy="536.2" r="4.5"/><circle cx="1335.8" cy="536.2" r="4.5"/><circle cx="1186.6" cy="547.6" r="4.5"/><circle cx="1190.1" cy="547.6" r="4.5"/><circle cx="1201.8" cy="547.6" r="4.5"/><circle cx="1258.8" cy="547.6" r="4.5"/><circle cx="1281.9" cy="547.6" r="4.5"/><circle cx="1090.4" cy="557.0" r="4.5"/><circle cx="1097.4" cy="557.0" r="4.5"/><circle cx="1144.6" cy="557.0" r="4.5"/><circle cx="1178.7" cy="557.0" r="4.5"/><circle cx="1193.0" cy="557.0" r="4.5"/><circle cx="1204.9" cy="557.0" r="4.5"/><circle cx="1216.3" cy="557.0" r="4.5"/><circle cx="1218.9" cy="557.0" r="4.5"/><circle cx="1260.6" cy="557.0" r="4.5"/><circle cx="1296.2" cy="557.0" r="4.5"/><circle cx="1229.4" cy="598.8" r="4.5"/><circle cx="1233.8" cy="598.8" r="4.5"/><circle cx="1281.9" cy="598.8" r="4.5"/><circle cx="1305.5" cy="598.8" r="4.5"/><circle cx="1323.0" cy="598.8" r="4.5"/><circle cx="1070.3" cy="604.5" r="4.5"/><circle cx="1098.2" cy="604.5" r="4.5"/><circle cx="1135.9" cy="604.5" r="4.5"/><circle cx="1149.0" cy="604.5" r="4.5"/><circle cx="1161.2" cy="604.5" r="4.5"/><circle cx="1177.0" cy="604.5" r="4.5"/><circle cx="1189.2" cy="604.5" r="4.5"/><circle cx="1212.8" cy="604.5" r="4.5"/><circle cx="1074.6" cy="609.3" r="4.5"/><circle cx="1108.4" cy="609.3" r="4.5"/><circle cx="1119.2" cy="609.3" r="4.5"/><circle cx="1221.6" cy="609.3" r="4.5"/><circle cx="1242.6" cy="609.3" r="4.5"/><circle cx="1343.1" cy="473.5" r="4.5"/><circle cx="1357.3" cy="473.5" r="4.5"/><circle cx="1440.2" cy="473.5" r="4.5"/><circle cx="1427.6" cy="490.6" r="4.5"/><circle cx="1364.6" cy="536.2" r="4.5"/><circle cx="1373.4" cy="536.2" r="4.5"/><circle cx="1377.4" cy="536.2" r="4.5"/><circle cx="1415.0" cy="536.2" r="4.5"/><circle cx="1424.1" cy="536.2" r="4.5"/><circle cx="1382.5" cy="598.8" r="4.5"/><circle cx="1076.2" cy="604.5" r="4.5"/><circle cx="1086.5" cy="604.5" r="4.5"/><circle cx="1108.6" cy="604.5" r="4.5"/><circle cx="1121.7" cy="604.5" r="4.5"/><circle cx="1172.5" cy="604.5" r="4.5"/><circle cx="1529.5" cy="87.2" r="4.5"/><circle cx="1532.5" cy="87.2" r="4.5"/><circle cx="1535.5" cy="87.2" r="4.5"/><circle cx="1538.5" cy="87.2" r="4.5"/><circle cx="1541.5" cy="87.2" r="4.5"/><circle cx="1544.5" cy="87.2" r="4.5"/><circle cx="1547.5" cy="87.2" r="4.5"/><circle cx="1550.5" cy="87.2" r="4.5"/><circle cx="1553.5" cy="87.2" r="4.5"/><circle cx="1556.5" cy="87.2" r="4.5"/><circle cx="1559.5" cy="87.2" r="4.5"/><circle cx="1562.5" cy="87.2" r="4.5"/><circle cx="1565.5" cy="87.2" r="4.5"/><circle cx="1568.5" cy="87.2" r="4.5"/><circle cx="1571.5" cy="87.2" r="4.5"/><circle cx="1574.5" cy="87.2" r="4.5"/><circle cx="1577.5" cy="87.2" r="4.5"/><circle cx="1580.5" cy="87.2" r="4.5"/><circle cx="1583.5" cy="87.2" r="4.5"/><circle cx="1586.5" cy="87.2" r="4.5"/><circle cx="1589.5" cy="87.2" r="4.5"/><circle cx="1592.5" cy="87.2" r="4.5"/><circle cx="1595.5" cy="87.2" r="4.5"/><circle cx="1598.5" cy="87.2" r="4.5"/><circle cx="1601.5" cy="87.2" r="4.5"/><circle cx="1604.5" cy="87.2" r="4.5"/><circle cx="1607.5" cy="87.2" r="4.5"/><circle cx="1610.5" cy="87.2" r="4.5"/><circle cx="1613.5" cy="87.2" r="4.5"/><circle cx="1616.5" cy="87.2" r="4.5"/><circle cx="1619.5" cy="87.2" r="4.5"/><circle cx="1622.5" cy="87.2" r="4.5"/><circle cx="1625.5" cy="87.2" r="4.5"/><circle cx="1628.5" cy="87.2" r="4.5"/><circle cx="1631.5" cy="87.2" r="4.5"/><circle cx="1634.5" cy="87.2" r="4.5"/><circle cx="1637.5" cy="87.2" r="4.5"/><circle cx="1640.5" cy="87.2" r="4.5"/><circle cx="1643.5" cy="87.2" r="4.5"/><circle cx="1646.5" cy="87.2" r="4.5"/><circle cx="1649.5" cy="87.2" r="4.5"/><circle cx="1652.5" cy="87.2" r="4.5"/><circle cx="1655.5" cy="87.2" r="4.5"/><circle cx="1658.5" cy="87.2" r="4.5"/><circle cx="1661.5" cy="87.2" r="4.5"/><circle cx="1664.5" cy="87.2" r="4.5"/><circle cx="1667.5" cy="87.2" r="4.5"/><circle cx="1670.5" cy="87.2" r="4.5"/><circle cx="1673.5" cy="87.2" r="4.5"/><circle cx="1676.5" cy="87.2" r="4.5"/><circle cx="1679.5" cy="87.2" r="4.5"/><circle cx="1585.5" cy="92.0" r="4.5"/><circle cx="1588.5" cy="92.0" r="4.5"/><circle cx="1591.4" cy="92.0" r="4.5"/><circle cx="1594.3" cy="92.0" r="4.5"/><circle cx="1597.3" cy="92.0" r="4.5"/><circle cx="1600.2" cy="92.0" r="4.5"/><circle cx="1603.2" cy="92.0" r="4.5"/><circle cx="1606.1" cy="92.0" r="4.5"/><circle cx="1609.1" cy="92.0" r="4.5"/><circle cx="1612.0" cy="92.0" r="4.5"/><circle cx="1614.9" cy="92.0" r="4.5"/><circle cx="1617.9" cy="92.0" r="4.5"/><circle cx="1620.8" cy="92.0" r="4.5"/><circle cx="1623.8" cy="92.0" r="4.5"/><circle cx="1626.7" cy="92.0" r="4.5"/><circle cx="1629.7" cy="92.0" r="4.5"/><circle cx="1632.6" cy="92.0" r="4.5"/><circle cx="1635.5" cy="92.0" r="4.5"/><circle cx="1638.5" cy="92.0" r="4.5"/><circle cx="1645.5" cy="92.0" r="4.5"/><circle cx="1648.3" cy="92.0" r="4.5"/><circle cx="1651.2" cy="92.0" r="4.5"/><circle cx="1654.0" cy="92.0" r="4.5"/><circle cx="1656.8" cy="92.0" r="4.5"/><circle cx="1659.7" cy="92.0" r="4.5"/><circle cx="1662.5" cy="92.0" r="4.5"/><circle cx="1672.5" cy="92.0" r="4.5"/><circle cx="1676.0" cy="92.0" r="4.5"/><circle cx="1679.5" cy="92.0" r="4.5"/><circle cx="1568.8" cy="97.7" r="4.5"/><circle cx="1571.8" cy="97.7" r="4.5"/><circle cx="1574.8" cy="97.7" r="4.5"/><circle cx="1577.8" cy="97.7" r="4.5"/><circle cx="1580.8" cy="97.7" r="4.5"/><circle cx="1583.9" cy="97.7" r="4.5"/><circle cx="1586.9" cy="97.7" r="4.5"/><circle cx="1589.9" cy="97.7" r="4.5"/><circle cx="1592.9" cy="97.7" r="4.5"/><circle cx="1596.0" cy="97.7" r="4.5"/><circle cx="1599.0" cy="97.7" r="4.5"/><circle cx="1602.0" cy="97.7" r="4.5"/><circle cx="1605.0" cy="97.7" r="4.5"/><circle cx="1608.0" cy="97.7" r="4.5"/><circle cx="1611.0" cy="97.7" r="4.5"/><circle cx="1614.1" cy="97.7" r="4.5"/><circle cx="1617.1" cy="97.7" r="4.5"/><circle cx="1620.1" cy="97.7" r="4.5"/><circle cx="1623.1" cy="97.7" r="4.5"/><circle cx="1626.2" cy="97.7" r="4.5"/><circle cx="1629.2" cy="97.7" r="4.5"/><circle cx="1632.2" cy="97.7" r="4.5"/><circle cx="1635.2" cy="97.7" r="4.5"/><circle cx="1638.3" cy="97.7" r="4.5"/><circle cx="1641.2" cy="97.7" r="4.5"/><circle cx="1644.2" cy="97.7" r="4.5"/><circle cx="1647.3" cy="97.7" r="4.5"/><circle cx="1650.3" cy="97.7" r="4.5"/><circle cx="1653.3" cy="97.7" r="4.5"/><circle cx="1656.3" cy="97.7" r="4.5"/><circle cx="1659.4" cy="97.7" r="4.5"/><circle cx="1662.4" cy="97.7" r="4.5"/><circle cx="1665.4" cy="97.7" r="4.5"/><circle cx="1668.4" cy="97.7" r="4.5"/><circle cx="1671.5" cy="97.7" r="4.5"/><circle cx="1674.4" cy="97.7" r="4.5"/><circle cx="1677.5" cy="97.7" r="4.5"/><circle cx="1680.5" cy="97.7" r="4.5"/><circle cx="1072.0" cy="598.8" r="4.5"/><circle cx="1075.0" cy="598.8" r="4.5"/><circle cx="1078.0" cy="598.8" r="4.5"/><circle cx="1081.0" cy="598.8" r="4.5"/><circle cx="1084.1" cy="598.8" r="4.5"/><circle cx="1087.1" cy="598.8" r="4.5"/><circle cx="1090.1" cy="598.8" r="4.5"/><circle cx="1093.1" cy="598.8" r="4.5"/><circle cx="1096.2" cy="598.8" r="4.5"/><circle cx="1099.2" cy="598.8" r="4.5"/><circle cx="1102.2" cy="598.8" r="4.5"/><circle cx="1105.2" cy="598.8" r="4.5"/><circle cx="1108.3" cy="598.8" r="4.5"/><circle cx="1111.3" cy="598.8" r="4.5"/><circle cx="1114.3" cy="598.8" r="4.5"/><circle cx="1117.3" cy="598.8" r="4.5"/><circle cx="1120.3" cy="598.8" r="4.5"/><circle cx="1123.3" cy="598.8" r="4.5"/><circle cx="1126.3" cy="598.8" r="4.5"/><circle cx="1129.4" cy="598.8" r="4.5"/><circle cx="1132.4" cy="598.8" r="4.5"/><circle cx="1135.4" cy="598.8" r="4.5"/><circle cx="1138.4" cy="598.8" r="4.5"/><circle cx="1141.5" cy="598.8" r="4.5"/><circle cx="1144.5" cy="598.8" r="4.5"/><circle cx="1147.5" cy="598.8" r="4.5"/><circle cx="1150.5" cy="598.8" r="4.5"/><circle cx="1153.6" cy="598.8" r="4.5"/><circle cx="1156.6" cy="598.8" r="4.5"/><circle cx="1159.6" cy="598.8" r="4.5"/><circle cx="1162.6" cy="598.8" r="4.5"/><circle cx="1165.6" cy="598.8" r="4.5"/><circle cx="1168.6" cy="598.8" r="4.5"/><circle cx="1171.7" cy="598.8" r="4.5"/><circle cx="1174.7" cy="598.8" r="4.5"/><circle cx="1177.7" cy="598.8" r="4.5"/><circle cx="1180.7" cy="598.8" r="4.5"/><circle cx="1183.8" cy="598.8" r="4.5"/><circle cx="1186.8" cy="598.8" r="4.5"/><circle cx="1189.8" cy="598.8" r="4.5"/><circle cx="1192.8" cy="598.8" r="4.5"/><circle cx="1195.9" cy="598.8" r="4.5"/><circle cx="1198.9" cy="598.8" r="4.5"/><circle cx="1201.9" cy="598.8" r="4.5"/><circle cx="1204.9" cy="598.8" r="4.5"/>
</g>
<rect x="1029.3" y="16.7" width="329.9" height="147.7" rx="4" ry="4" fill="#fff" fill-opacity="0.8" stroke="#ccc" stroke-width="2"/>
<line x1="1038.8" y1="34.8" x2="1088.8" y2="34.8" stroke="#00f" stroke-opacity="0.5" stroke-width="3.4" stroke-linecap="square"/>
<rect x="1038.8" y="81.7" width="50" height="19" fill="#00f" fill-opacity="0.1" stroke="#00f" stroke-opacity="0.1" stroke-width="2.4"/>
<circle cx="1065.4" cy="139.9" r="4.5" fill="#f00"/>
<g font-family="'DejaVu Sans', 'Liberation Sans', sans-serif" font-size="24.7" fill="#000" stroke="#000" stroke-width="0.45" letter-spacing="0.22">
<text x="1107.9" y="43.7">ideal estimation</text>
<text x="1107.9" y="80.5">Bayes 68% / 95%</text>
<text x="1107.9" y="110.8">confidence interval</text>
<text x="1107.9" y="147.0">predictions</text>
</g>
<rect x="1017.0" y="3.9" width="693.9" height="689.4" fill="none" stroke="#000" stroke-width="2" stroke-linejoin="miter"/>
<path d="M1048.9,693.2 v8.6 M1017.0,660.8 h-8.6 M1174.9,693.2 v8.6 M1017.0,535.5 h-8.6 M1301.0,693.2 v8.6 M1017.0,410.2 h-8.6 M1427.0,693.2 v8.6 M1017.0,285.0 h-8.6 M1553.1,693.2 v8.6 M1017.0,159.7 h-8.6 M1679.1,693.2 v8.6 M1017.0,34.4 h-8.6" stroke="#000" stroke-width="2"/>
<g font-family="'DejaVu Sans', 'Liberation Sans', sans-serif" font-size="24.7" fill="#000" stroke="#000" stroke-width="0.45">
<text x="1048.9" y="730.2" text-anchor="middle">0.0</text>
<text x="997.8" y="671.3" text-anchor="end">0.0</text>
<text x="1174.9" y="730.2" text-anchor="middle">0.2</text>
<text x="997.8" y="546.0" text-anchor="end">0.2</text>
<text x="1301.0" y="730.2" text-anchor="middle">0.4</text>
<text x="997.8" y="420.7" text-anchor="end">0.4</text>
<text x="1427.0" y="730.2" text-anchor="middle">0.6</text>
<text x="997.8" y="295.5" text-anchor="end">0.6</text>
<text x="1553.1" y="730.2" text-anchor="middle">0.8</text>
<text x="997.8" y="170.2" text-anchor="end">0.8</text>
<text x="1679.1" y="730.2" text-anchor="middle">1.0</text>
<text x="997.8" y="44.9" text-anchor="end">1.0</text>
<text x="1361.8" y="765.2" text-anchor="middle" letter-spacing="0.1">predicted probability</text>
<text transform="translate(941.5,349.7) rotate(-90)" text-anchor="middle" letter-spacing="0.15">Bayes expected probability / visibility probability</text>
</g>
<g font-family="'Liberation Serif', serif" fill="#000" stroke="#fff" stroke-width="1.0"><text x="1288.3" y="851.1" font-size="50">(</text><text x="1307.8" y="851.1" font-size="44" stroke-width="0.25">b</text><text x="1328.2" y="851.1" font-size="50">)</text></g>
<path d="M127.3,1416.8 L139.9,1397.1 L152.5,1378.9 L165.1,1361.9 L177.7,1345.7 L190.3,1330.2 L202.9,1315.2 L215.5,1300.8 L228.1,1286.8 L240.7,1273.2 L253.3,1259.9 L265.9,1246.9 L278.5,1234.2 L291.0,1221.8 L303.6,1209.6 L316.2,1197.7 L328.8,1186.0 L341.4,1174.6 L354.0,1163.3 L366.6,1152.2 L379.2,1141.4 L391.8,1130.7 L404.4,1120.3 L417.0,1110.0 L429.6,1099.9 L442.2,1090.0 L454.8,1080.2 L467.4,1070.7 L480.0,1061.3 L492.6,1052.2 L505.2,1043.2 L517.8,1034.4 L530.4,1025.8 L543.0,1017.4 L555.6,1009.2 L568.2,1001.3 L580.8,993.5 L593.4,986.0 L605.9,978.7 L618.5,971.7 L631.1,965.0 L643.7,958.6 L656.3,952.4 L668.9,946.7 L681.5,941.3 L694.1,936.4 L706.7,931.9 L719.3,928.0 L731.9,924.7 L744.5,922.2 L757.1,920.5 L757.1,1048.4 L744.5,1068.1 L731.9,1086.3 L719.3,1103.3 L706.7,1119.5 L694.1,1135.0 L681.5,1150.0 L668.9,1164.4 L656.3,1178.4 L643.7,1192.0 L631.1,1205.3 L618.5,1218.3 L605.9,1231.0 L593.4,1243.4 L580.8,1255.6 L568.2,1267.5 L555.6,1279.2 L543.0,1290.6 L530.4,1301.9 L517.8,1313.0 L505.2,1323.8 L492.6,1334.5 L480.0,1344.9 L467.4,1355.2 L454.8,1365.3 L442.2,1375.2 L429.6,1385.0 L417.0,1394.5 L404.4,1403.9 L391.8,1413.0 L379.2,1422.0 L366.6,1430.8 L354.0,1439.4 L341.4,1447.8 L328.8,1456.0 L316.2,1463.9 L303.6,1471.7 L291.0,1479.2 L278.5,1486.5 L265.9,1493.5 L253.3,1500.2 L240.7,1506.6 L228.1,1512.8 L215.5,1518.5 L202.9,1523.9 L190.3,1528.8 L177.7,1533.3 L165.1,1537.2 L152.5,1540.5 L139.9,1543.0 L127.3,1544.7Z" fill="#00f" fill-opacity="0.1" stroke="#00f" stroke-opacity="0.1" stroke-width="2.4" stroke-linejoin="round"/>
<path d="M127.3,1477.9 L139.9,1461.4 L152.5,1445.8 L165.1,1430.8 L177.7,1416.2 L190.3,1402.0 L202.9,1388.2 L215.5,1374.6 L228.1,1361.2 L240.7,1348.1 L253.3,1335.2 L265.9,1322.4 L278.5,1309.8 L291.0,1297.3 L303.6,1285.0 L316.2,1272.8 L328.8,1260.7 L341.4,1248.7 L354.0,1236.9 L366.6,1225.2 L379.2,1213.6 L391.8,1202.1 L404.4,1190.7 L417.0,1179.4 L429.6,1168.2 L442.2,1157.1 L454.8,1146.1 L467.4,1135.2 L480.0,1124.4 L492.6,1113.8 L505.2,1103.2 L517.8,1092.7 L530.4,1082.4 L543.0,1072.1 L555.6,1062.0 L568.2,1052.0 L580.8,1042.1 L593.4,1032.4 L605.9,1022.7 L618.5,1013.3 L631.1,1004.0 L643.7,994.9 L656.3,985.9 L668.9,977.2 L681.5,968.8 L694.1,960.6 L706.7,952.7 L719.3,945.2 L731.9,938.2 L744.5,931.8 L757.1,926.3 L757.1,987.3 L744.5,1003.8 L731.9,1019.4 L719.3,1034.4 L706.7,1049.0 L694.1,1063.2 L681.5,1077.0 L668.9,1090.6 L656.3,1104.0 L643.7,1117.1 L631.1,1130.0 L618.5,1142.8 L605.9,1155.4 L593.4,1167.9 L580.8,1180.2 L568.2,1192.4 L555.6,1204.5 L543.0,1216.5 L530.4,1228.3 L517.8,1240.0 L505.2,1251.6 L492.6,1263.1 L480.0,1274.5 L467.4,1285.8 L454.8,1297.0 L442.2,1308.1 L429.6,1319.1 L417.0,1330.0 L404.4,1340.8 L391.8,1351.4 L379.2,1362.0 L366.6,1372.5 L354.0,1382.8 L341.4,1393.1 L328.8,1403.2 L316.2,1413.2 L303.6,1423.1 L291.0,1432.8 L278.5,1442.5 L265.9,1451.9 L253.3,1461.2 L240.7,1470.3 L228.1,1479.3 L215.5,1488.0 L202.9,1496.4 L190.3,1504.6 L177.7,1512.5 L165.1,1520.0 L152.5,1527.0 L139.9,1533.4 L127.3,1538.9Z" fill="#00f" fill-opacity="0.1" stroke="#00f" stroke-opacity="0.1" stroke-width="2.4" stroke-linejoin="round"/>
<line x1="127.3" y1="1545.7" x2="757.1" y2="919.5" stroke="#00f" stroke-opacity="0.5" stroke-width="3.4" stroke-linecap="square"/>
<g fill="#f00">
<circle cx="274.0" cy="972.3" r="4.5"/><circle cx="349.2" cy="972.3" r="4.5"/><circle cx="394.4" cy="972.3" r="4.5"/><circle cx="257.9" cy="1024.5" r="4.5"/><circle cx="359.9" cy="1024.5" r="4.5"/><circle cx="369.0" cy="1024.5" r="4.5"/><circle cx="378.1" cy="1034.0" r="4.5"/><circle cx="320.6" cy="1076.7" r="4.5"/><circle cx="345.8" cy="1076.7" r="4.5"/><circle cx="369.0" cy="1076.7" r="4.5"/><circle cx="392.3" cy="1108.0" r="4.5"/><circle cx="252.3" cy="1128.9" r="4.5"/><circle cx="327.9" cy="1128.9" r="4.5"/><circle cx="388.8" cy="1147.8" r="4.5"/><circle cx="245.2" cy="1170.6" r="4.5"/><circle cx="385.1" cy="1170.6" r="4.5"/><circle cx="275.4" cy="1181.1" r="4.5"/><circle cx="289.8" cy="1181.1" r="4.5"/><circle cx="388.8" cy="1181.1" r="4.5"/><circle cx="164.9" cy="1204.8" r="4.5"/><circle cx="227.3" cy="1204.8" r="4.5"/><circle cx="236.6" cy="1233.2" r="4.5"/><circle cx="247.1" cy="1233.2" r="4.5"/><circle cx="264.9" cy="1233.2" r="4.5"/><circle cx="282.8" cy="1233.2" r="4.5"/><circle cx="304.3" cy="1233.2" r="4.5"/><circle cx="316.9" cy="1233.2" r="4.5"/><circle cx="336.6" cy="1233.2" r="4.5"/><circle cx="340.5" cy="1233.2" r="4.5"/><circle cx="369.0" cy="1233.2" r="4.5"/><circle cx="378.6" cy="1233.2" r="4.5"/><circle cx="382.5" cy="1233.2" r="4.5"/><circle cx="386.5" cy="1233.2" r="4.5"/><circle cx="432.5" cy="972.3" r="4.5"/><circle cx="436.3" cy="972.3" r="4.5"/><circle cx="467.5" cy="972.3" r="4.5"/><circle cx="471.9" cy="972.3" r="4.5"/><circle cx="479.7" cy="972.3" r="4.5"/><circle cx="503.3" cy="972.3" r="4.5"/><circle cx="533.1" cy="972.3" r="4.5"/><circle cx="553.2" cy="972.3" r="4.5"/><circle cx="497.2" cy="977.1" r="4.5"/><circle cx="547.9" cy="977.1" r="4.5"/><circle cx="556.7" cy="977.1" r="4.5"/><circle cx="409.8" cy="982.8" r="4.5"/><circle cx="401.3" cy="1024.5" r="4.5"/><circle cx="438.6" cy="1024.5" r="4.5"/><circle cx="468.8" cy="1024.5" r="4.5"/><circle cx="491.1" cy="1024.5" r="4.5"/><circle cx="498.9" cy="1024.5" r="4.5"/><circle cx="512.9" cy="1024.5" r="4.5"/><circle cx="525.2" cy="1024.5" r="4.5"/><circle cx="529.5" cy="1024.5" r="4.5"/><circle cx="534.8" cy="1024.5" r="4.5"/><circle cx="561.9" cy="1024.5" r="4.5"/><circle cx="566.3" cy="1024.5" r="4.5"/><circle cx="575.0" cy="1024.5" r="4.5"/><circle cx="620.6" cy="1024.5" r="4.5"/><circle cx="641.5" cy="1024.5" r="4.5"/><circle cx="499.3" cy="1034.0" r="4.5"/><circle cx="454.9" cy="1045.4" r="4.5"/><circle cx="486.7" cy="1045.4" r="4.5"/><circle cx="513.8" cy="1045.4" r="4.5"/><circle cx="524.3" cy="1045.4" r="4.5"/><circle cx="554.4" cy="1045.4" r="4.5"/><circle cx="574.7" cy="1045.4" r="4.5"/><circle cx="588.2" cy="1045.4" r="4.5"/><circle cx="594.3" cy="1045.4" r="4.5"/><circle cx="606.9" cy="1045.4" r="4.5"/><circle cx="616.1" cy="1045.4" r="4.5"/><circle cx="626.7" cy="1045.4" r="4.5"/><circle cx="631.9" cy="1045.4" r="4.5"/><circle cx="637.1" cy="1045.4" r="4.5"/><circle cx="643.3" cy="1045.4" r="4.5"/><circle cx="655.5" cy="1045.4" r="4.5"/><circle cx="662.5" cy="1045.4" r="4.5"/><circle cx="669.5" cy="1045.4" r="4.5"/><circle cx="679.1" cy="1045.4" r="4.5"/><circle cx="684.4" cy="1045.4" r="4.5"/><circle cx="411.8" cy="1076.7" r="4.5"/><circle cx="442.4" cy="1076.7" r="4.5"/><circle cx="490.6" cy="1076.7" r="4.5"/><circle cx="513.8" cy="1076.7" r="4.5"/><circle cx="531.8" cy="1076.7" r="4.5"/><circle cx="547.9" cy="1076.7" r="4.5"/><circle cx="632.3" cy="1076.7" r="4.5"/><circle cx="651.5" cy="1076.7" r="4.5"/><circle cx="406.2" cy="1090.9" r="4.5"/><circle cx="438.6" cy="1090.9" r="4.5"/><circle cx="449.6" cy="1090.9" r="4.5"/><circle cx="508.6" cy="1090.9" r="4.5"/><circle cx="537.1" cy="1090.9" r="4.5"/><circle cx="585.2" cy="1090.9" r="4.5"/><circle cx="660.7" cy="1090.9" r="4.5"/><circle cx="433.4" cy="1108.0" r="4.5"/><circle cx="460.1" cy="1108.0" r="4.5"/><circle cx="508.6" cy="1108.0" r="4.5"/><circle cx="529.5" cy="1108.0" r="4.5"/><circle cx="534.8" cy="1108.0" r="4.5"/><circle cx="567.7" cy="1108.0" r="4.5"/><circle cx="415.0" cy="1128.9" r="4.5"/><circle cx="419.3" cy="1128.9" r="4.5"/><circle cx="465.7" cy="1128.9" r="4.5"/><circle cx="470.1" cy="1128.9" r="4.5"/><circle cx="483.2" cy="1128.9" r="4.5"/><circle cx="490.6" cy="1128.9" r="4.5"/><circle cx="525.2" cy="1128.9" r="4.5"/><circle cx="560.2" cy="1128.9" r="4.5"/><circle cx="463.6" cy="1147.8" r="4.5"/><circle cx="632.3" cy="1147.8" r="4.5"/><circle cx="431.6" cy="1170.6" r="4.5"/><circle cx="465.4" cy="1170.6" r="4.5"/><circle cx="494.0" cy="1170.6" r="4.5"/><circle cx="504.7" cy="1170.6" r="4.5"/><circle cx="512.6" cy="1170.6" r="4.5"/><circle cx="526.1" cy="1170.6" r="4.5"/><circle cx="576.5" cy="1170.6" r="4.5"/><circle cx="413.6" cy="1181.1" r="4.5"/><circle cx="436.8" cy="1181.1" r="4.5"/><circle cx="470.6" cy="1181.1" r="4.5"/><circle cx="531.8" cy="1204.8" r="4.5"/><circle cx="596.1" cy="1204.8" r="4.5"/><circle cx="512.4" cy="1233.2" r="4.5"/><circle cx="533.6" cy="1233.2" r="4.5"/><circle cx="553.2" cy="1233.2" r="4.5"/><circle cx="568.9" cy="1233.2" r="4.5"/><circle cx="709.0" cy="1024.5" r="4.5"/><circle cx="707.2" cy="1034.0" r="4.5"/><circle cx="717.8" cy="1034.0" r="4.5"/><circle cx="726.9" cy="1045.4" r="4.5"/><circle cx="739.5" cy="1045.4" r="4.5"/><circle cx="714.1" cy="1108.0" r="4.5"/><circle cx="257.9" cy="1261.7" r="4.5"/><circle cx="173.6" cy="1285.4" r="4.5"/><circle cx="230.8" cy="1285.4" r="4.5"/><circle cx="279.3" cy="1285.4" r="4.5"/><circle cx="284.2" cy="1285.4" r="4.5"/><circle cx="181.0" cy="1295.9" r="4.5"/><circle cx="261.4" cy="1295.9" r="4.5"/><circle cx="311.3" cy="1295.9" r="4.5"/><circle cx="341.9" cy="1295.9" r="4.5"/><circle cx="166.5" cy="1318.7" r="4.5"/><circle cx="209.8" cy="1318.7" r="4.5"/><circle cx="256.2" cy="1318.7" r="4.5"/><circle cx="300.8" cy="1318.7" r="4.5"/><circle cx="162.6" cy="1337.6" r="4.5"/><circle cx="167.0" cy="1337.6" r="4.5"/><circle cx="227.3" cy="1337.6" r="4.5"/><circle cx="245.3" cy="1337.6" r="4.5"/><circle cx="252.7" cy="1337.6" r="4.5"/><circle cx="270.5" cy="1337.6" r="4.5"/><circle cx="282.4" cy="1337.6" r="4.5"/><circle cx="287.6" cy="1337.6" r="4.5"/><circle cx="296.4" cy="1337.6" r="4.5"/><circle cx="300.8" cy="1337.6" r="4.5"/><circle cx="305.2" cy="1337.6" r="4.5"/><circle cx="326.2" cy="1337.6" r="4.5"/><circle cx="354.7" cy="1337.6" r="4.5"/><circle cx="372.5" cy="1337.6" r="4.5"/><circle cx="395.8" cy="1337.6" r="4.5"/><circle cx="160.9" cy="1358.5" r="4.5"/><circle cx="177.1" cy="1358.5" r="4.5"/><circle cx="193.6" cy="1358.5" r="4.5"/><circle cx="222.1" cy="1358.5" r="4.5"/><circle cx="236.9" cy="1358.5" r="4.5"/><circle cx="240.5" cy="1358.5" r="4.5"/><circle cx="248.8" cy="1358.5" r="4.5"/><circle cx="256.2" cy="1358.5" r="4.5"/><circle cx="284.2" cy="1358.5" r="4.5"/><circle cx="320.0" cy="1358.5" r="4.5"/><circle cx="326.2" cy="1358.5" r="4.5"/><circle cx="340.5" cy="1358.5" r="4.5"/><circle cx="363.4" cy="1358.5" r="4.5"/><circle cx="139.8" cy="1375.6" r="4.5"/><circle cx="213.8" cy="1375.6" r="4.5"/><circle cx="218.1" cy="1375.6" r="4.5"/><circle cx="243.6" cy="1375.6" r="4.5"/><circle cx="257.9" cy="1375.6" r="4.5"/><circle cx="298.7" cy="1375.6" r="4.5"/><circle cx="324.4" cy="1375.6" r="4.5"/><circle cx="347.2" cy="1375.6" r="4.5"/><circle cx="361.1" cy="1375.6" r="4.5"/><circle cx="370.8" cy="1375.6" r="4.5"/><circle cx="387.4" cy="1375.6" r="4.5"/><circle cx="395.3" cy="1375.6" r="4.5"/><circle cx="135.5" cy="1389.8" r="4.5"/><circle cx="140.7" cy="1389.8" r="4.5"/><circle cx="188.8" cy="1389.8" r="4.5"/><circle cx="194.1" cy="1389.8" r="4.5"/><circle cx="213.3" cy="1389.8" r="4.5"/><circle cx="227.3" cy="1389.8" r="4.5"/><circle cx="267.0" cy="1389.8" r="4.5"/><circle cx="138.6" cy="1421.1" r="4.5"/><circle cx="162.6" cy="1421.1" r="4.5"/><circle cx="174.8" cy="1421.1" r="4.5"/><circle cx="187.9" cy="1421.1" r="4.5"/><circle cx="206.0" cy="1421.1" r="4.5"/><circle cx="223.8" cy="1421.1" r="4.5"/><circle cx="231.7" cy="1421.1" r="4.5"/><circle cx="236.1" cy="1421.1" r="4.5"/><circle cx="240.5" cy="1421.1" r="4.5"/><circle cx="244.8" cy="1421.1" r="4.5"/><circle cx="261.4" cy="1421.1" r="4.5"/><circle cx="266.7" cy="1421.1" r="4.5"/><circle cx="275.4" cy="1421.1" r="4.5"/><circle cx="279.0" cy="1421.1" r="4.5"/><circle cx="288.0" cy="1421.1" r="4.5"/><circle cx="304.3" cy="1421.1" r="4.5"/><circle cx="308.7" cy="1421.1" r="4.5"/><circle cx="322.3" cy="1421.1" r="4.5"/><circle cx="388.8" cy="1421.1" r="4.5"/><circle cx="138.1" cy="1432.5" r="4.5"/><circle cx="196.7" cy="1432.5" r="4.5"/><circle cx="248.8" cy="1432.5" r="4.5"/><circle cx="263.2" cy="1432.5" r="4.5"/><circle cx="130.6" cy="1442.0" r="4.5"/><circle cx="140.4" cy="1442.0" r="4.5"/><circle cx="181.8" cy="1442.0" r="4.5"/><circle cx="188.8" cy="1442.0" r="4.5"/><circle cx="198.8" cy="1442.0" r="4.5"/><circle cx="216.0" cy="1442.0" r="4.5"/><circle cx="220.8" cy="1442.0" r="4.5"/><circle cx="254.1" cy="1442.0" r="4.5"/><circle cx="275.4" cy="1442.0" r="4.5"/><circle cx="230.8" cy="1483.7" r="4.5"/><circle cx="243.6" cy="1483.7" r="4.5"/><circle cx="291.7" cy="1483.7" r="4.5"/><circle cx="307.8" cy="1483.7" r="4.5"/><circle cx="236.1" cy="1489.4" r="4.5"/><circle cx="429.9" cy="1261.7" r="4.5"/><circle cx="451.4" cy="1285.4" r="4.5"/><circle cx="420.8" cy="1295.9" r="4.5"/><circle cx="475.9" cy="1295.9" r="4.5"/><circle cx="487.6" cy="1295.9" r="4.5"/><circle cx="492.0" cy="1295.9" r="4.5"/><circle cx="512.9" cy="1295.9" r="4.5"/><circle cx="519.1" cy="1295.9" r="4.5"/><circle cx="568.0" cy="1295.9" r="4.5"/><circle cx="573.3" cy="1295.9" r="4.5"/><circle cx="575.9" cy="1295.9" r="4.5"/><circle cx="608.8" cy="1295.9" r="4.5"/><circle cx="419.0" cy="1318.7" r="4.5"/><circle cx="431.6" cy="1318.7" r="4.5"/><circle cx="519.1" cy="1318.7" r="4.5"/><circle cx="648.0" cy="1318.7" r="4.5"/><circle cx="406.2" cy="1358.5" r="4.5"/><circle cx="402.8" cy="1421.1" r="4.5"/><circle cx="540.1" cy="1421.1" r="4.5"/><circle cx="568.9" cy="982.8" r="4.5"/><circle cx="587.8" cy="982.8" r="4.5"/><circle cx="597.6" cy="982.8" r="4.5"/><circle cx="129.5" cy="1489.4" r="4.5"/><circle cx="134.5" cy="1489.4" r="4.5"/><circle cx="138.7" cy="1489.4" r="4.5"/><circle cx="145.0" cy="1489.4" r="4.5"/><circle cx="191.2" cy="1489.4" r="4.5"/><circle cx="197.5" cy="1489.4" r="4.5"/><circle cx="204.5" cy="1489.4" r="4.5"/><circle cx="213.6" cy="1489.4" r="4.5"/><circle cx="135.2" cy="1494.2" r="4.5"/><circle cx="171.6" cy="1494.2" r="4.5"/><circle cx="178.6" cy="1494.2" r="4.5"/><circle cx="188.0" cy="1494.2" r="4.5"/><circle cx="568.2" cy="972.3" r="4.5"/><circle cx="571.1" cy="972.3" r="4.5"/><circle cx="574.0" cy="972.3" r="4.5"/><circle cx="576.8" cy="972.3" r="4.5"/><circle cx="579.7" cy="972.3" r="4.5"/><circle cx="582.6" cy="972.3" r="4.5"/><circle cx="585.5" cy="972.3" r="4.5"/><circle cx="588.4" cy="972.3" r="4.5"/><circle cx="591.2" cy="972.3" r="4.5"/><circle cx="594.1" cy="972.3" r="4.5"/><circle cx="603.9" cy="972.3" r="4.5"/><circle cx="607.1" cy="972.3" r="4.5"/><circle cx="610.2" cy="972.3" r="4.5"/><circle cx="613.4" cy="972.3" r="4.5"/><circle cx="616.5" cy="972.3" r="4.5"/><circle cx="623.5" cy="972.3" r="4.5"/><circle cx="626.5" cy="972.3" r="4.5"/><circle cx="629.6" cy="972.3" r="4.5"/><circle cx="632.6" cy="972.3" r="4.5"/><circle cx="635.6" cy="972.3" r="4.5"/><circle cx="638.6" cy="972.3" r="4.5"/><circle cx="641.7" cy="972.3" r="4.5"/><circle cx="644.7" cy="972.3" r="4.5"/><circle cx="647.7" cy="972.3" r="4.5"/><circle cx="650.7" cy="972.3" r="4.5"/><circle cx="653.7" cy="972.3" r="4.5"/><circle cx="656.8" cy="972.3" r="4.5"/><circle cx="659.8" cy="972.3" r="4.5"/><circle cx="662.8" cy="972.3" r="4.5"/><circle cx="665.8" cy="972.3" r="4.5"/><circle cx="668.9" cy="972.3" r="4.5"/><circle cx="671.9" cy="972.3" r="4.5"/><circle cx="674.9" cy="972.3" r="4.5"/><circle cx="677.9" cy="972.3" r="4.5"/><circle cx="681.0" cy="972.3" r="4.5"/><circle cx="684.0" cy="972.3" r="4.5"/><circle cx="687.0" cy="972.3" r="4.5"/><circle cx="690.0" cy="972.3" r="4.5"/><circle cx="693.0" cy="972.3" r="4.5"/><circle cx="696.1" cy="972.3" r="4.5"/><circle cx="699.1" cy="972.3" r="4.5"/><circle cx="702.1" cy="972.3" r="4.5"/><circle cx="705.1" cy="972.3" r="4.5"/><circle cx="708.2" cy="972.3" r="4.5"/><circle cx="711.2" cy="972.3" r="4.5"/><circle cx="714.2" cy="972.3" r="4.5"/><circle cx="717.2" cy="972.3" r="4.5"/><circle cx="720.3" cy="972.3" r="4.5"/><circle cx="723.3" cy="972.3" r="4.5"/><circle cx="726.3" cy="972.3" r="4.5"/><circle cx="729.3" cy="972.3" r="4.5"/><circle cx="732.3" cy="972.3" r="4.5"/><circle cx="735.4" cy="972.3" r="4.5"/><circle cx="738.4" cy="972.3" r="4.5"/><circle cx="741.4" cy="972.3" r="4.5"/><circle cx="744.4" cy="972.3" r="4.5"/><circle cx="747.5" cy="972.3" r="4.5"/><circle cx="750.5" cy="972.3" r="4.5"/><circle cx="753.5" cy="972.3" r="4.5"/><circle cx="756.5" cy="972.3" r="4.5"/><circle cx="573.5" cy="977.1" r="4.5"/><circle cx="577.0" cy="977.1" r="4.5"/><circle cx="580.5" cy="977.1" r="4.5"/><circle cx="603.5" cy="977.1" r="4.5"/><circle cx="606.8" cy="977.1" r="4.5"/><circle cx="610.0" cy="977.1" r="4.5"/><circle cx="613.2" cy="977.1" r="4.5"/><circle cx="616.5" cy="977.1" r="4.5"/><circle cx="625.5" cy="977.1" r="4.5"/><circle cx="628.5" cy="977.1" r="4.5"/><circle cx="631.5" cy="977.1" r="4.5"/><circle cx="634.5" cy="977.1" r="4.5"/><circle cx="637.5" cy="977.1" r="4.5"/><circle cx="640.5" cy="977.1" r="4.5"/><circle cx="643.5" cy="977.1" r="4.5"/><circle cx="646.5" cy="977.1" r="4.5"/><circle cx="649.5" cy="977.1" r="4.5"/><circle cx="652.5" cy="977.1" r="4.5"/><circle cx="655.5" cy="977.1" r="4.5"/><circle cx="658.5" cy="977.1" r="4.5"/><circle cx="661.5" cy="977.1" r="4.5"/><circle cx="664.5" cy="977.1" r="4.5"/><circle cx="667.5" cy="977.1" r="4.5"/><circle cx="670.5" cy="977.1" r="4.5"/><circle cx="673.5" cy="977.1" r="4.5"/><circle cx="676.5" cy="977.1" r="4.5"/><circle cx="679.5" cy="977.1" r="4.5"/><circle cx="682.5" cy="977.1" r="4.5"/><circle cx="685.5" cy="977.1" r="4.5"/><circle cx="688.5" cy="977.1" r="4.5"/><circle cx="691.5" cy="977.1" r="4.5"/><circle cx="694.5" cy="977.1" r="4.5"/><circle cx="697.5" cy="977.1" r="4.5"/><circle cx="700.5" cy="977.1" r="4.5"/><circle cx="703.5" cy="977.1" r="4.5"/><circle cx="706.5" cy="977.1" r="4.5"/><circle cx="709.5" cy="977.1" r="4.5"/><circle cx="712.5" cy="977.1" r="4.5"/><circle cx="715.5" cy="977.1" r="4.5"/><circle cx="718.5" cy="977.1" r="4.5"/><circle cx="721.5" cy="977.1" r="4.5"/><circle cx="724.5" cy="977.1" r="4.5"/><circle cx="727.5" cy="977.1" r="4.5"/><circle cx="730.5" cy="977.1" r="4.5"/><circle cx="733.5" cy="977.1" r="4.5"/><circle cx="736.5" cy="977.1" r="4.5"/><circle cx="739.5" cy="977.1" r="4.5"/><circle cx="742.5" cy="977.1" r="4.5"/><circle cx="745.5" cy="977.1" r="4.5"/><circle cx="748.5" cy="977.1" r="4.5"/><circle cx="751.5" cy="977.1" r="4.5"/><circle cx="754.5" cy="977.1" r="4.5"/><circle cx="757.5" cy="977.1" r="4.5"/><circle cx="603.9" cy="982.8" r="4.5"/><circle cx="607.1" cy="982.8" r="4.5"/><circle cx="610.2" cy="982.8" r="4.5"/><circle cx="613.4" cy="982.8" r="4.5"/><circle cx="616.5" cy="982.8" r="4.5"/><circle cx="629.1" cy="982.8" r="4.5"/><circle cx="632.0" cy="982.8" r="4.5"/><circle cx="635.0" cy="982.8" r="4.5"/><circle cx="637.9" cy="982.8" r="4.5"/><circle cx="640.8" cy="982.8" r="4.5"/><circle cx="643.7" cy="982.8" r="4.5"/><circle cx="646.7" cy="982.8" r="4.5"/><circle cx="649.6" cy="982.8" r="4.5"/><circle cx="652.5" cy="982.8" r="4.5"/><circle cx="655.5" cy="982.8" r="4.5"/><circle cx="658.4" cy="982.8" r="4.5"/><circle cx="661.4" cy="982.8" r="4.5"/><circle cx="664.3" cy="982.8" r="4.5"/><circle cx="667.2" cy="982.8" r="4.5"/><circle cx="670.1" cy="982.8" r="4.5"/><circle cx="673.1" cy="982.8" r="4.5"/><circle cx="676.0" cy="982.8" r="4.5"/><circle cx="686.5" cy="982.8" r="4.5"/><circle cx="689.5" cy="982.8" r="4.5"/><circle cx="692.4" cy="982.8" r="4.5"/><circle cx="695.4" cy="982.8" r="4.5"/><circle cx="698.3" cy="982.8" r="4.5"/><circle cx="701.3" cy="982.8" r="4.5"/><circle cx="704.3" cy="982.8" r="4.5"/><circle cx="707.2" cy="982.8" r="4.5"/><circle cx="710.2" cy="982.8" r="4.5"/><circle cx="713.1" cy="982.8" r="4.5"/><circle cx="716.1" cy="982.8" r="4.5"/><circle cx="719.0" cy="982.8" r="4.5"/><circle cx="722.0" cy="982.8" r="4.5"/><circle cx="724.9" cy="982.8" r="4.5"/><circle cx="727.9" cy="982.8" r="4.5"/><circle cx="730.8" cy="982.8" r="4.5"/><circle cx="733.8" cy="982.8" r="4.5"/><circle cx="736.8" cy="982.8" r="4.5"/><circle cx="739.7" cy="982.8" r="4.5"/><circle cx="742.7" cy="982.8" r="4.5"/><circle cx="745.6" cy="982.8" r="4.5"/><circle cx="748.6" cy="982.8" r="4.5"/><circle cx="751.6" cy="982.8" r="4.5"/><circle cx="754.5" cy="982.8" r="4.5"/><circle cx="126.8" cy="1483.7" r="4.5"/><circle cx="129.8" cy="1483.7" r="4.5"/><circle cx="132.8" cy="1483.7" r="4.5"/><circle cx="135.8" cy="1483.7" r="4.5"/><circle cx="138.8" cy="1483.7" r="4.5"/><circle cx="141.8" cy="1483.7" r="4.5"/><circle cx="144.8" cy="1483.7" r="4.5"/><circle cx="147.8" cy="1483.7" r="4.5"/><circle cx="150.8" cy="1483.7" r="4.5"/><circle cx="153.8" cy="1483.7" r="4.5"/><circle cx="156.8" cy="1483.7" r="4.5"/><circle cx="159.8" cy="1483.7" r="4.5"/><circle cx="162.8" cy="1483.7" r="4.5"/><circle cx="165.8" cy="1483.7" r="4.5"/><circle cx="168.8" cy="1483.7" r="4.5"/><circle cx="171.8" cy="1483.7" r="4.5"/><circle cx="174.8" cy="1483.7" r="4.5"/><circle cx="177.8" cy="1483.7" r="4.5"/><circle cx="180.8" cy="1483.7" r="4.5"/><circle cx="183.8" cy="1483.7" r="4.5"/><circle cx="186.8" cy="1483.7" r="4.5"/><circle cx="189.8" cy="1483.7" r="4.5"/><circle cx="192.8" cy="1483.7" r="4.5"/><circle cx="195.8" cy="1483.7" r="4.5"/><circle cx="198.8" cy="1483.7" r="4.5"/><circle cx="201.8" cy="1483.7" r="4.5"/><circle cx="204.8" cy="1483.7" r="4.5"/><circle cx="207.8" cy="1483.7" r="4.5"/><circle cx="210.8" cy="1483.7" r="4.5"/>
</g>
<rect x="447.2" y="1417.6" width="329.9" height="147.7" rx="4" ry="4" fill="#fff" fill-opacity="0.8" stroke="#ccc" stroke-width="2"/>
<line x1="456.7" y1="1435.7" x2="506.7" y2="1435.7" stroke="#00f" stroke-opacity="0.5" stroke-width="3.4" stroke-linecap="square"/>
<rect x="456.7" y="1482.6" width="50" height="19" fill="#00f" fill-opacity="0.1" stroke="#00f" stroke-opacity="0.1" stroke-width="2.4"/>
<circle cx="483.3" cy="1540.9" r="4.5" fill="#f00"/>
<g font-family="'DejaVu Sans', 'Liberation Sans', sans-serif" font-size="24.7" fill="#000" stroke="#000" stroke-width="0.45" letter-spacing="0.22">
<text x="525.8" y="1444.6">ideal estimation</text>
<text x="525.8" y="1481.4">Bayes 68% / 95%</text>
<text x="525.8" y="1511.7">confidence interval</text>
<text x="525.8" y="1547.9">predictions</text>
</g>
<rect x="95.4" y="888.8" width="693.9" height="689.3" fill="none" stroke="#000" stroke-width="2" stroke-linejoin="miter"/>
<path d="M127.3,1578.1 v8.6 M95.4,1545.7 h-8.6 M253.3,1578.1 v8.6 M95.4,1420.5 h-8.6 M379.2,1578.1 v8.6 M95.4,1295.2 h-8.6 M505.2,1578.1 v8.6 M95.4,1170.0 h-8.6 M631.1,1578.1 v8.6 M95.4,1044.7 h-8.6 M757.1,1578.1 v8.6 M95.4,919.5 h-8.6" stroke="#000" stroke-width="2"/>
<g font-family="'DejaVu Sans', 'Liberation Sans', sans-serif" font-size="24.7" fill="#000" stroke="#000" stroke-width="0.45">
<text x="127.3" y="1615.1" text-anchor="middle">0.0</text>
<text x="76.2" y="1556.2" text-anchor="end">0.0</text>
<text x="253.3" y="1615.1" text-anchor="middle">0.2</text>
<text x="76.2" y="1431.0" text-anchor="end">0.2</text>
<text x="379.2" y="1615.1" text-anchor="middle">0.4</text>
<text x="76.2" y="1305.7" text-anchor="end">0.4</text>
<text x="505.2" y="1615.1" text-anchor="middle">0.6</text>
<text x="76.2" y="1180.5" text-anchor="end">0.6</text>
<text x="631.1" y="1615.1" text-anchor="middle">0.8</text>
<text x="76.2" y="1055.2" text-anchor="end">0.8</text>
<text x="757.1" y="1615.1" text-anchor="middle">1.0</text>
<text x="76.2" y="930.0" text-anchor="end">1.0</text>
<text x="440.1" y="1650.1" text-anchor="middle" letter-spacing="0.1">predicted probability</text>
<text transform="translate(19.9,1234.6) rotate(-90)" text-anchor="middle" letter-spacing="0.15">Bayes expected probability / visibility probability</text>
</g>
<g font-family="'Liberation Serif', serif" fill="#000" stroke="#fff" stroke-width="1.0"><text x="368.9" y="1736.6" font-size="50">(</text><text x="384.7" y="1736.6" font-size="44" stroke-width="0.25">c</text><text x="403.9" y="1736.6" font-size="50">)</text></g>
<path d="M1048.9,1387.8 L1061.5,1369.2 L1074.1,1351.8 L1086.7,1335.4 L1099.3,1319.8 L1111.9,1304.9 L1124.5,1290.5 L1137.1,1276.5 L1149.7,1263.0 L1162.3,1249.9 L1174.9,1237.1 L1187.5,1224.6 L1200.1,1212.4 L1212.8,1200.5 L1225.4,1188.9 L1238.0,1177.5 L1250.6,1166.3 L1263.2,1155.4 L1275.8,1144.7 L1288.4,1134.2 L1301.0,1123.9 L1313.6,1113.8 L1326.2,1103.9 L1338.8,1094.2 L1351.4,1084.7 L1364.0,1075.4 L1376.6,1066.3 L1389.2,1057.3 L1401.8,1048.6 L1414.4,1040.0 L1427.0,1031.7 L1439.6,1023.5 L1452.2,1015.6 L1464.8,1007.9 L1477.4,1000.3 L1490.0,993.0 L1502.6,985.9 L1515.2,979.1 L1527.9,972.5 L1540.5,966.2 L1553.1,960.1 L1565.7,954.4 L1578.3,948.9 L1590.9,943.8 L1603.5,939.0 L1616.1,934.7 L1628.7,930.8 L1641.3,927.4 L1653.9,924.6 L1666.5,922.3 L1679.1,920.7 L1679.1,1077.4 L1666.5,1096.0 L1653.9,1113.4 L1641.3,1129.8 L1628.7,1145.4 L1616.1,1160.3 L1603.5,1174.7 L1590.9,1188.7 L1578.3,1202.2 L1565.7,1215.3 L1553.1,1228.1 L1540.5,1240.6 L1527.9,1252.8 L1515.2,1264.7 L1502.6,1276.3 L1490.0,1287.7 L1477.4,1298.9 L1464.8,1309.8 L1452.2,1320.5 L1439.6,1331.0 L1427.0,1341.3 L1414.4,1351.4 L1401.8,1361.3 L1389.2,1371.0 L1376.6,1380.5 L1364.0,1389.8 L1351.4,1398.9 L1338.8,1407.9 L1326.2,1416.6 L1313.6,1425.2 L1301.0,1433.5 L1288.4,1441.7 L1275.8,1449.6 L1263.2,1457.3 L1250.6,1464.9 L1238.0,1472.2 L1225.4,1479.3 L1212.8,1486.1 L1200.1,1492.7 L1187.5,1499.0 L1174.9,1505.1 L1162.3,1510.8 L1149.7,1516.3 L1137.1,1521.4 L1124.5,1526.2 L1111.9,1530.5 L1099.3,1534.4 L1086.7,1537.8 L1074.1,1540.6 L1061.5,1542.9 L1048.9,1544.5Z" fill="#00f" fill-opacity="0.1" stroke="#00f" stroke-opacity="0.1" stroke-width="2.4" stroke-linejoin="round"/>
<path d="M1048.9,1461.6 L1061.5,1445.6 L1074.1,1430.3 L1086.7,1415.6 L1099.3,1401.4 L1111.9,1387.4 L1124.5,1373.8 L1137.1,1360.5 L1149.7,1347.4 L1162.3,1334.5 L1174.9,1321.9 L1187.5,1309.4 L1200.1,1297.0 L1212.8,1284.8 L1225.4,1272.8 L1238.0,1260.9 L1250.6,1249.1 L1263.2,1237.5 L1275.8,1226.0 L1288.4,1214.6 L1301.0,1203.3 L1313.6,1192.1 L1326.2,1181.0 L1338.8,1170.1 L1351.4,1159.3 L1364.0,1148.5 L1376.6,1137.9 L1389.2,1127.4 L1401.8,1117.0 L1414.4,1106.7 L1427.0,1096.5 L1439.6,1086.4 L1452.2,1076.5 L1464.8,1066.6 L1477.4,1056.9 L1490.0,1047.3 L1502.6,1037.9 L1515.2,1028.6 L1527.9,1019.4 L1540.5,1010.4 L1553.1,1001.6 L1565.7,992.9 L1578.3,984.4 L1590.9,976.2 L1603.5,968.2 L1616.1,960.5 L1628.7,953.0 L1641.3,946.0 L1653.9,939.4 L1666.5,933.4 L1679.1,928.0 L1679.1,1003.6 L1666.5,1019.6 L1653.9,1034.9 L1641.3,1049.6 L1628.7,1063.8 L1616.1,1077.8 L1603.5,1091.4 L1590.9,1104.7 L1578.3,1117.8 L1565.7,1130.7 L1553.1,1143.3 L1540.5,1155.8 L1527.9,1168.2 L1515.2,1180.4 L1502.6,1192.4 L1490.0,1204.3 L1477.4,1216.1 L1464.8,1227.7 L1452.2,1239.2 L1439.6,1250.6 L1427.0,1261.9 L1414.4,1273.1 L1401.8,1284.2 L1389.2,1295.1 L1376.6,1305.9 L1364.0,1316.7 L1351.4,1327.3 L1338.8,1337.8 L1326.2,1348.2 L1313.6,1358.5 L1301.0,1368.7 L1288.4,1378.8 L1275.8,1388.7 L1263.2,1398.6 L1250.6,1408.3 L1238.0,1417.9 L1225.4,1427.3 L1212.8,1436.6 L1200.1,1445.8 L1187.5,1454.8 L1174.9,1463.6 L1162.3,1472.3 L1149.7,1480.8 L1137.1,1489.0 L1124.5,1497.0 L1111.9,1504.7 L1099.3,1512.2 L1086.7,1519.2 L1074.1,1525.8 L1061.5,1531.8 L1048.9,1537.2Z" fill="#00f" fill-opacity="0.1" stroke="#00f" stroke-opacity="0.1" stroke-width="2.4" stroke-linejoin="round"/>
<line x1="1048.9" y1="1545.7" x2="1679.1" y2="919.5" stroke="#00f" stroke-opacity="0.5" stroke-width="3.4" stroke-linecap="square"/>
<g fill="#f00">
<circle cx="1328.8" cy="972.3" r="4.5"/><circle cx="1321.6" cy="1024.5" r="4.5"/><circle cx="1228.6" cy="1076.7" r="4.5"/><circle cx="1332.1" cy="1090.9" r="4.5"/><circle cx="1204.9" cy="1128.9" r="4.5"/><circle cx="1280.2" cy="1147.8" r="4.5"/><circle cx="1128.5" cy="1233.2" r="4.5"/><circle cx="1230.3" cy="1233.2" r="4.5"/><circle cx="1273.2" cy="1233.2" r="4.5"/><circle cx="1307.3" cy="1233.2" r="4.5"/><circle cx="1436.3" cy="972.3" r="4.5"/><circle cx="1446.8" cy="972.3" r="4.5"/><circle cx="1464.3" cy="972.3" r="4.5"/><circle cx="1470.4" cy="972.3" r="4.5"/><circle cx="1503.6" cy="972.3" r="4.5"/><circle cx="1527.3" cy="972.3" r="4.5"/><circle cx="1535.2" cy="972.3" r="4.5"/><circle cx="1542.2" cy="972.3" r="4.5"/><circle cx="1547.4" cy="972.3" r="4.5"/><circle cx="1553.6" cy="972.3" r="4.5"/><circle cx="1589.4" cy="972.3" r="4.5"/><circle cx="1594.6" cy="972.3" r="4.5"/><circle cx="1600.8" cy="972.3" r="4.5"/><circle cx="1606.9" cy="972.3" r="4.5"/><circle cx="1613.9" cy="972.3" r="4.5"/><circle cx="1620.9" cy="972.3" r="4.5"/><circle cx="1466.1" cy="977.1" r="4.5"/><circle cx="1491.4" cy="977.1" r="4.5"/><circle cx="1550.9" cy="977.1" r="4.5"/><circle cx="1578.9" cy="977.1" r="4.5"/><circle cx="1589.4" cy="977.1" r="4.5"/><circle cx="1599.9" cy="977.1" r="4.5"/><circle cx="1418.5" cy="982.8" r="4.5"/><circle cx="1518.0" cy="982.8" r="4.5"/><circle cx="1527.3" cy="982.8" r="4.5"/><circle cx="1538.3" cy="982.8" r="4.5"/><circle cx="1583.2" cy="982.8" r="4.5"/><circle cx="1592.9" cy="982.8" r="4.5"/><circle cx="1610.4" cy="982.8" r="4.5"/><circle cx="1617.4" cy="982.8" r="4.5"/><circle cx="1335.8" cy="1024.5" r="4.5"/><circle cx="1416.2" cy="1024.5" r="4.5"/><circle cx="1446.8" cy="1024.5" r="4.5"/><circle cx="1471.8" cy="1024.5" r="4.5"/><circle cx="1523.8" cy="1024.5" r="4.5"/><circle cx="1364.6" cy="1034.0" r="4.5"/><circle cx="1522.1" cy="1034.0" r="4.5"/><circle cx="1561.4" cy="1034.0" r="4.5"/><circle cx="1421.8" cy="1045.4" r="4.5"/><circle cx="1459.1" cy="1045.4" r="4.5"/><circle cx="1464.3" cy="1045.4" r="4.5"/><circle cx="1493.2" cy="1045.4" r="4.5"/><circle cx="1571.0" cy="1045.4" r="4.5"/><circle cx="1576.2" cy="1045.4" r="4.5"/><circle cx="1579.8" cy="1045.4" r="4.5"/><circle cx="1589.0" cy="1045.4" r="4.5"/><circle cx="1612.1" cy="1045.4" r="4.5"/><circle cx="1482.7" cy="1090.9" r="4.5"/><circle cx="1520.3" cy="1090.9" r="4.5"/><circle cx="1547.1" cy="1090.9" r="4.5"/><circle cx="1561.4" cy="1090.9" r="4.5"/><circle cx="1602.5" cy="1090.9" r="4.5"/><circle cx="1339.2" cy="1108.0" r="4.5"/><circle cx="1384.2" cy="1108.0" r="4.5"/><circle cx="1457.3" cy="1108.0" r="4.5"/><circle cx="1461.7" cy="1108.0" r="4.5"/><circle cx="1534.3" cy="1108.0" r="4.5"/><circle cx="1566.7" cy="1108.0" r="4.5"/><circle cx="1575.4" cy="1108.0" r="4.5"/><circle cx="1484.4" cy="1147.8" r="4.5"/><circle cx="1597.2" cy="1147.8" r="4.5"/><circle cx="1508.9" cy="1170.6" r="4.5"/><circle cx="1409.6" cy="1181.1" r="4.5"/><circle cx="1489.7" cy="1204.8" r="4.5"/><circle cx="1505.8" cy="1204.8" r="4.5"/><circle cx="1350.1" cy="1233.2" r="4.5"/><circle cx="1405.7" cy="1233.2" r="4.5"/><circle cx="1459.1" cy="1233.2" r="4.5"/><circle cx="1659.6" cy="1034.0" r="4.5"/><circle cx="1634.2" cy="1045.4" r="4.5"/><circle cx="1649.7" cy="1045.4" r="4.5"/><circle cx="1654.0" cy="1045.4" r="4.5"/><circle cx="1638.0" cy="1147.8" r="4.5"/><circle cx="1657.7" cy="1170.6" r="4.5"/><circle cx="1134.1" cy="1285.4" r="4.5"/><circle cx="1301.7" cy="1295.9" r="4.5"/><circle cx="1187.4" cy="1318.7" r="4.5"/><circle cx="1218.9" cy="1318.7" r="4.5"/><circle cx="1224.2" cy="1318.7" r="4.5"/><circle cx="1287.2" cy="1318.7" r="4.5"/><circle cx="1291.5" cy="1318.7" r="4.5"/><circle cx="1194.4" cy="1337.6" r="4.5"/><circle cx="1194.4" cy="1358.5" r="4.5"/><circle cx="1215.8" cy="1358.5" r="4.5"/><circle cx="1235.6" cy="1358.5" r="4.5"/><circle cx="1247.8" cy="1358.5" r="4.5"/><circle cx="1252.1" cy="1358.5" r="4.5"/><circle cx="1289.3" cy="1358.5" r="4.5"/><circle cx="1065.8" cy="1375.6" r="4.5"/><circle cx="1079.8" cy="1375.6" r="4.5"/><circle cx="1090.4" cy="1375.6" r="4.5"/><circle cx="1110.2" cy="1375.6" r="4.5"/><circle cx="1134.1" cy="1375.6" r="4.5"/><circle cx="1151.6" cy="1375.6" r="4.5"/><circle cx="1206.7" cy="1375.6" r="4.5"/><circle cx="1227.7" cy="1375.6" r="4.5"/><circle cx="1233.8" cy="1375.6" r="4.5"/><circle cx="1253.6" cy="1375.6" r="4.5"/><circle cx="1194.4" cy="1389.8" r="4.5"/><circle cx="1218.9" cy="1389.8" r="4.5"/><circle cx="1267.6" cy="1389.8" r="4.5"/><circle cx="1058.3" cy="1421.1" r="4.5"/><circle cx="1065.8" cy="1421.1" r="4.5"/><circle cx="1086.8" cy="1421.1" r="4.5"/><circle cx="1190.9" cy="1421.1" r="4.5"/><circle cx="1195.3" cy="1421.1" r="4.5"/><circle cx="1051.4" cy="1432.5" r="4.5"/><circle cx="1056.3" cy="1432.5" r="4.5"/><circle cx="1065.8" cy="1432.5" r="4.5"/><circle cx="1126.2" cy="1432.5" r="4.5"/><circle cx="1241.2" cy="1432.5" r="4.5"/><circle cx="1253.6" cy="1432.5" r="4.5"/><circle cx="1278.4" cy="1432.5" r="4.5"/><circle cx="1298.0" cy="1442.0" r="4.5"/><circle cx="1049.3" cy="1483.7" r="4.5"/><circle cx="1054.5" cy="1483.7" r="4.5"/><circle cx="1059.7" cy="1483.7" r="4.5"/><circle cx="1065.0" cy="1483.7" r="4.5"/><circle cx="1071.1" cy="1483.7" r="4.5"/><circle cx="1082.5" cy="1483.7" r="4.5"/><circle cx="1086.8" cy="1483.7" r="4.5"/><circle cx="1111.9" cy="1483.7" r="4.5"/><circle cx="1123.6" cy="1483.7" r="4.5"/><circle cx="1190.9" cy="1483.7" r="4.5"/><circle cx="1213.7" cy="1483.7" r="4.5"/><circle cx="1233.8" cy="1483.7" r="4.5"/><circle cx="1316.0" cy="1483.7" r="4.5"/><circle cx="1047.5" cy="1489.4" r="4.5"/><circle cx="1052.7" cy="1489.4" r="4.5"/><circle cx="1058.0" cy="1489.4" r="4.5"/><circle cx="1069.4" cy="1489.4" r="4.5"/><circle cx="1081.6" cy="1489.4" r="4.5"/><circle cx="1088.6" cy="1489.4" r="4.5"/><circle cx="1144.6" cy="1489.4" r="4.5"/><circle cx="1149.0" cy="1489.4" r="4.5"/><circle cx="1182.2" cy="1489.4" r="4.5"/><circle cx="1196.2" cy="1489.4" r="4.5"/><circle cx="1328.3" cy="1489.4" r="4.5"/><circle cx="1051.0" cy="1494.2" r="4.5"/><circle cx="1472.2" cy="1261.7" r="4.5"/><circle cx="1341.4" cy="1295.9" r="4.5"/><circle cx="1373.4" cy="1295.9" r="4.5"/><circle cx="1387.4" cy="1295.9" r="4.5"/><circle cx="1446.8" cy="1295.9" r="4.5"/><circle cx="1579.3" cy="1295.9" r="4.5"/><circle cx="1338.3" cy="1318.7" r="4.5"/><circle cx="1343.6" cy="1318.7" r="4.5"/><circle cx="1411.3" cy="1318.7" r="4.5"/><circle cx="1554.4" cy="1318.7" r="4.5"/><circle cx="1400.1" cy="1337.6" r="4.5"/><circle cx="1394.7" cy="1358.5" r="4.5"/><circle cx="1427.6" cy="1358.5" r="4.5"/><circle cx="1450.3" cy="1358.5" r="4.5"/><circle cx="1351.8" cy="1375.6" r="4.5"/><circle cx="1387.4" cy="1375.6" r="4.5"/><circle cx="1468.7" cy="1375.6" r="4.5"/><circle cx="1550.9" cy="1375.6" r="4.5"/><circle cx="1606.4" cy="1375.6" r="4.5"/><circle cx="1384.2" cy="1421.1" r="4.5"/><circle cx="1401.9" cy="1442.0" r="4.5"/><circle cx="1651.0" cy="972.3" r="4.5"/><circle cx="1660.1" cy="972.3" r="4.5"/><circle cx="1676.5" cy="972.3" r="4.5"/><circle cx="1630.5" cy="977.1" r="4.5"/><circle cx="1645.5" cy="977.1" r="4.5"/><circle cx="1658.5" cy="977.1" r="4.5"/><circle cx="1675.5" cy="982.8" r="4.5"/><circle cx="1620.5" cy="972.3" r="4.5"/><circle cx="1623.4" cy="972.3" r="4.5"/><circle cx="1626.2" cy="972.3" r="4.5"/><circle cx="1629.1" cy="972.3" r="4.5"/><circle cx="1632.0" cy="972.3" r="4.5"/><circle cx="1634.8" cy="972.3" r="4.5"/><circle cx="1637.6" cy="972.3" r="4.5"/><circle cx="1640.5" cy="972.3" r="4.5"/><circle cx="1620.5" cy="982.8" r="4.5"/><circle cx="1623.6" cy="982.8" r="4.5"/><circle cx="1626.7" cy="982.8" r="4.5"/><circle cx="1629.7" cy="982.8" r="4.5"/><circle cx="1632.8" cy="982.8" r="4.5"/><circle cx="1635.9" cy="982.8" r="4.5"/><circle cx="1638.9" cy="982.8" r="4.5"/><circle cx="1642.0" cy="982.8" r="4.5"/><circle cx="1645.0" cy="982.8" r="4.5"/><circle cx="1648.1" cy="982.8" r="4.5"/><circle cx="1651.2" cy="982.8" r="4.5"/><circle cx="1654.2" cy="982.8" r="4.5"/><circle cx="1657.3" cy="982.8" r="4.5"/><circle cx="1660.4" cy="982.8" r="4.5"/><circle cx="1663.4" cy="982.8" r="4.5"/><circle cx="1666.5" cy="982.8" r="4.5"/>
</g>
<rect x="1368.8" y="1417.6" width="329.9" height="147.7" rx="4" ry="4" fill="#fff" fill-opacity="0.8" stroke="#ccc" stroke-width="2"/>
<line x1="1378.3" y1="1435.7" x2="1428.3" y2="1435.7" stroke="#00f" stroke-opacity="0.5" stroke-width="3.4" stroke-linecap="square"/>
<rect x="1378.3" y="1482.6" width="50" height="19" fill="#00f" fill-opacity="0.1" stroke="#00f" stroke-opacity="0.1" stroke-width="2.4"/>
<circle cx="1404.9" cy="1540.9" r="4.5" fill="#f00"/>
<g font-family="'DejaVu Sans', 'Liberation Sans', sans-serif" font-size="24.7" fill="#000" stroke="#000" stroke-width="0.45" letter-spacing="0.22">
<text x="1447.4" y="1444.6">ideal estimation</text>
<text x="1447.4" y="1481.4">Bayes 68% / 95%</text>
<text x="1447.4" y="1511.7">confidence interval</text>
<text x="1447.4" y="1547.9">predictions</text>
</g>
<rect x="1017.0" y="888.8" width="693.9" height="689.3" fill="none" stroke="#000" stroke-width="2" stroke-linejoin="miter"/>
<path d="M1048.9,1578.1 v8.6 M1017.0,1545.7 h-8.6 M1174.9,1578.1 v8.6 M1017.0,1420.5 h-8.6 M1301.0,1578.1 v8.6 M1017.0,1295.2 h-8.6 M1427.0,1578.1 v8.6 M1017.0,1170.0 h-8.6 M1553.1,1578.1 v8.6 M1017.0,1044.7 h-8.6 M1679.1,1578.1 v8.6 M1017.0,919.5 h-8.6" stroke="#000" stroke-width="2"/>
<g font-family="'DejaVu Sans', 'Liberation Sans', sans-serif" font-size="24.7" fill="#000" stroke="#000" stroke-width="0.45">
<text x="1048.9" y="1615.1" text-anchor="middle">0.0</text>
<text x="997.8" y="1556.2" text-anchor="end">0.0</text>
<text x="1174.9" y="1615.1" text-anchor="middle">0.2</text>
<text x="997.8" y="1431.0" text-anchor="end">0.2</text>
<text x="1301.0" y="1615.1" text-anchor="middle">0.4</text>
<text x="997.8" y="1305.7" text-anchor="end">0.4</text>
<text x="1427.0" y="1615.1" text-anchor="middle">0.6</text>
<text x="997.8" y="1180.5" text-anchor="end">0.6</text>
<text x="1553.1" y="1615.1" text-anchor="middle">0.8</text>
<text x="997.8" y="1055.2" text-anchor="end">0.8</text>
<text x="1679.1" y="1615.1" text-anchor="middle">1.0</text>
<text x="997.8" y="930.0" text-anchor="end">1.0</text>
<text x="1361.8" y="1650.1" text-anchor="middle" letter-spacing="0.1">predicted probability</text>
<text transform="translate(941.5,1234.6) rotate(-90)" text-anchor="middle" letter-spacing="0.15">Bayes expected probability / visibility probability</text>
</g>
<g font-family="'Liberation Serif', serif" fill="#000" stroke="#fff" stroke-width="1.0"><text x="1288.5" y="1736.6" font-size="50">(</text><text x="1305.3" y="1736.6" font-size="44" stroke-width="0.25">d</text><text x="1328.2" y="1736.6" font-size="50">)</text></g>
</g></svg></body></html>
